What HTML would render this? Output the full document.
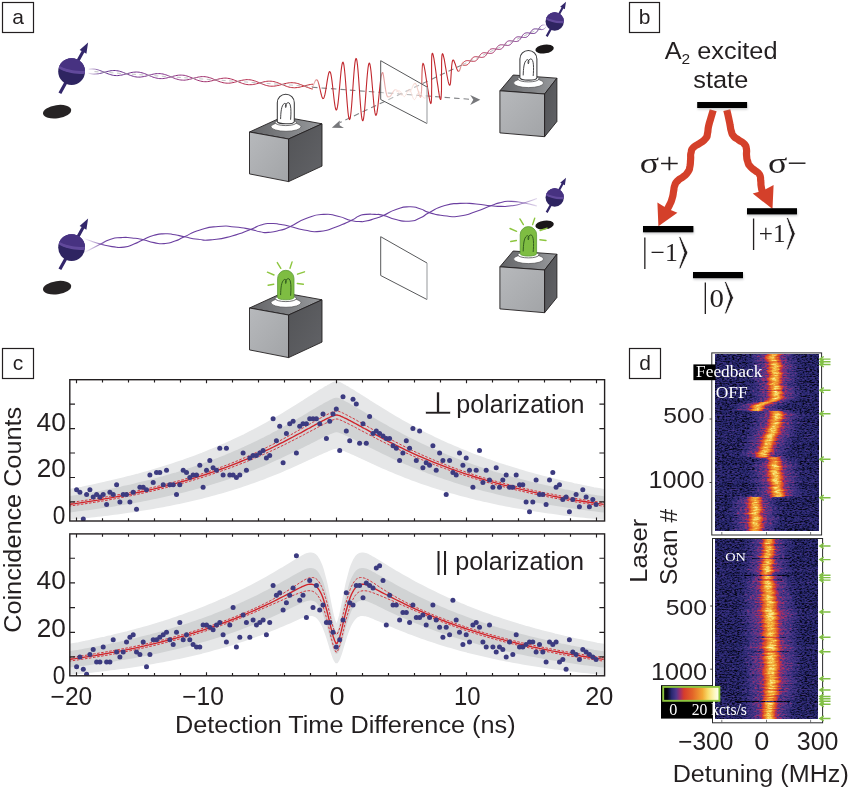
<!DOCTYPE html>
<html><head><meta charset="utf-8"><title>Figure</title>
<style>
html,body{margin:0;padding:0;background:#fff;overflow:hidden}
svg{display:block}
text{font-family:"Liberation Sans",sans-serif;fill:#231f20}
.ser{font-family:"Liberation Serif",serif}
.sym{font-family:"DejaVu Sans",sans-serif}
.mth{font-family:"DejaVu Math TeX Gyre","DejaVu Sans",sans-serif}
</style></head><body>
<svg width="850" height="790" viewBox="0 0 850 790">
<rect width="850" height="790" fill="#fff"/>
<defs>
<linearGradient id="gw1" gradientUnits="userSpaceOnUse" x1="86" y1="0" x2="315" y2="0">
<stop offset="0" stop-color="#5f2d8c" stop-opacity="0"/><stop offset="0.07" stop-color="#5f2d8c" stop-opacity="1"/>
<stop offset="0.35" stop-color="#86308a"/><stop offset="0.65" stop-color="#b22a52"/><stop offset="1" stop-color="#c1272d"/></linearGradient>
<linearGradient id="gw2" gradientUnits="userSpaceOnUse" x1="547" y1="25" x2="462" y2="65">
<stop offset="0" stop-color="#5f2d8c" stop-opacity="0"/><stop offset="0.09" stop-color="#5f2d8c" stop-opacity="1"/>
<stop offset="0.45" stop-color="#8a2d80"/><stop offset="0.75" stop-color="#b32a55"/><stop offset="1" stop-color="#c1272d"/></linearGradient>
<linearGradient id="gw3" gradientUnits="userSpaceOnUse" x1="84" y1="0" x2="540" y2="0">
<stop offset="0" stop-color="#6b3fa0" stop-opacity="0"/><stop offset="0.05" stop-color="#6b3fa0" stop-opacity="1"/>
<stop offset="0.93" stop-color="#6b3fa0" stop-opacity="1"/><stop offset="1" stop-color="#6b3fa0" stop-opacity="0.1"/></linearGradient>
<linearGradient id="gp1" gradientUnits="userSpaceOnUse" x1="310" y1="0" x2="400" y2="0">
<stop offset="0" stop-color="#e8a9a0" stop-opacity="0.3"/><stop offset="0.12" stop-color="#c1272d"/><stop offset="0.80" stop-color="#c1272d"/>
<stop offset="0.86" stop-color="#e08a80"/><stop offset="1" stop-color="#f2c4bb" stop-opacity="0.6"/></linearGradient>
<linearGradient id="gp2" gradientUnits="userSpaceOnUse" x1="464" y1="0" x2="408" y2="0">
<stop offset="0" stop-color="#e8a9a0" stop-opacity="0.4"/><stop offset="0.12" stop-color="#c1272d"/><stop offset="0.72" stop-color="#c1272d"/>
<stop offset="0.80" stop-color="#e59a8c"/><stop offset="1" stop-color="#f4cfc4" stop-opacity="0.5"/></linearGradient>
<linearGradient id="bxl" x1="0" y1="0" x2="1" y2="1"><stop offset="0" stop-color="#b7b9bc"/><stop offset="1" stop-color="#a2a4a7"/></linearGradient>
<linearGradient id="bxd" x1="0" y1="0" x2="1" y2="1"><stop offset="0" stop-color="#525356"/><stop offset="1" stop-color="#626367"/></linearGradient>
<linearGradient id="bxt" x1="0" y1="0" x2="1" y2="0"><stop offset="0" stop-color="#636467"/><stop offset="1" stop-color="#989a9d"/></linearGradient>
<clipPath id="sphc"><circle cx="0" cy="0" r="13.4"/></clipPath>
<g id="spin">
<path d="M-13.1,20.9 L-10.3,22.5 L12.7,-19.1 L14.8,-17.9 L16.5,-29.0 L8.0,-21.7 L10.0,-20.6 Z" fill="#33276b"/>
<circle cx="0" cy="0" r="13.4" fill="#2e2461"/>
<g clip-path="url(#sphc)">
<path d="M-14,-3.8 C-7,1 5,3.4 14,2 L14,-14 L-14,-14 Z" fill="#61499b"/>
<path d="M-14,-6.8 C-7,-2.1 5,0.3 14,-1 L14,-14 L-14,-14 Z" fill="#473281"/>
</g>
</g>
<g id="lampoff">
<ellipse cx="0.2" cy="0.8" rx="15" ry="4.6" fill="#fff" stroke="#4d4d4f" stroke-width="0.7"/>
<ellipse cx="0" cy="-3.4" rx="10.6" ry="3.1" fill="#fff" stroke="#4d4d4f" stroke-width="0.8"/>
<path d="M-8.5,-4.5 L-8.5,-23.2 A8.5,8.5 0 0 1 8.5,-23.2 L8.5,-4.5 A8.5,2.4 0 0 1 -8.5,-4.5 Z" fill="#fff" stroke="#3a3a3c" stroke-width="1.05"/>
<path d="M-5.2,-7.2 C-5,-13 -4.6,-20.5 -1.6,-22.3 C-0.6,-22.9 0.2,-22.3 0.4,-20.8 C0.5,-19.8 0.3,-18.8 -0.1,-18.4 C-0.8,-19.6 -0.3,-22.6 2.3,-23.3 C5.6,-23.6 5.4,-13 4.8,-6.6" fill="none" stroke="#3a3a3c" stroke-width="0.95" stroke-linecap="round"/>
</g>
<g id="lampon">
<ellipse cx="0.2" cy="0.8" rx="15" ry="4.6" fill="#fff" stroke="#4d4d4f" stroke-width="0.7"/>
<ellipse cx="0" cy="-3.4" rx="10.6" ry="3.1" fill="#fff" stroke="#4d4d4f" stroke-width="0.8"/>
<path d="M-8.2,-4.5 L-8.2,-23.4 A8.2,8.2 0 0 1 8.2,-23.4 L8.2,-4.5 A8.2,2.4 0 0 1 -8.2,-4.5 Z" fill="#7ebd42" stroke="#5b9a33" stroke-width="0.8"/>
<path d="M-5.2,-7.2 C-5,-13 -4.6,-20.5 -1.6,-22.3 C-0.6,-22.9 0.2,-22.3 0.4,-20.8 C0.5,-19.8 0.3,-18.8 -0.1,-18.4 C-0.8,-19.6 -0.3,-22.6 2.3,-23.3 C5.6,-23.6 5.4,-13 4.8,-6.6" fill="none" stroke="#2f5a1d" stroke-width="0.95" stroke-linecap="round"/>
<path d="M-8.5,-39.3 L-5,-33.6 M6.3,-40 L4.2,-33.6 M-18.4,-29.7 L-11.8,-26.9 M11.7,-27.7 L18.7,-30.1 M-17.7,-16.7 L-12,-17.7 M11.5,-18.4 L17.6,-17.7" fill="none" stroke="#8dc63f" stroke-width="1.4" stroke-linecap="round"/>
</g>
</defs>
<rect x="2.5" y="2.5" width="31" height="30" fill="#fff" stroke="#231f20" stroke-width="1.2"/>
<text x="18" y="24.1" font-size="21" text-anchor="middle">a</text>
<rect x="629.5" y="2.5" width="30" height="30" fill="#fff" stroke="#231f20" stroke-width="1.2"/>
<text x="644.5" y="24.1" font-size="21" text-anchor="middle">b</text>
<rect x="2.5" y="348.5" width="31" height="30" fill="#fff" stroke="#231f20" stroke-width="1.2"/>
<text x="18" y="370.1" font-size="21" text-anchor="middle">c</text>
<rect x="629.5" y="348.5" width="31" height="30" fill="#fff" stroke="#231f20" stroke-width="1.2"/>
<text x="645" y="370.1" font-size="21" text-anchor="middle">d</text>
<g transform="translate(0,0)">
<ellipse cx="57.1" cy="111.7" rx="14.2" ry="6.6" fill="#262324" transform="rotate(-8 57.1 111.7)"/>
<ellipse cx="544.6" cy="49" rx="9.3" ry="4.4" fill="#1a1718" transform="rotate(-8 544.6 49)"/>
</g>
<g transform="translate(0,176)">
<ellipse cx="57.1" cy="111.7" rx="14.2" ry="6.6" fill="#262324" transform="rotate(-8 57.1 111.7)"/>
<ellipse cx="544.6" cy="49" rx="9.3" ry="4.4" fill="#1a1718" transform="rotate(-8 544.6 49)"/>
</g>
<path d="M88.4,73.2L89.8,73.5L91.1,73.8L92.5,74L93.9,74.1L95.4,74L96.8,73.9L98.2,73.8L99.6,73.5L101.1,73.2L102.5,72.8L103.9,72.4L105.4,72L106.8,71.6L108.2,71.3L109.7,71L111.1,70.7L112.5,70.6L113.9,70.5L115.3,70.5L116.7,70.7L118.1,70.9L119.5,71.2L120.9,71.6L122.3,72.1L123.6,72.6L125,73.2L126.4,73.7L127.8,74.3L129.1,74.9L130.5,75.4L131.9,75.9L133.3,76.3L134.6,76.7L136,76.9L137.4,77.1L138.8,77.1L140.3,77.1L141.7,76.9L143.1,76.7L144.5,76.4L146,76.1L147.4,75.7L148.8,75.3L150.3,74.9L151.7,74.5L153.1,74.2L154.6,73.9L156,73.7L157.4,73.6L158.8,73.6L160.2,73.6L161.6,73.8L163,74L164.4,74.4L165.8,74.8L167.2,75.3L168.5,75.8L169.9,76.4L171.3,77L172.6,77.6L174,78.1L175.4,78.7L176.8,79.1L178.2,79.5L179.5,79.8L180.9,80L182.3,80.1L183.7,80.2L185.2,80.1L186.6,79.9L188,79.7L189.4,79.3L190.9,79L192.3,78.6L193.7,78.2L195.2,77.8L196.6,77.5L198.1,77.1L199.5,76.9L200.9,76.7L202.3,76.6L203.7,76.6L205.1,76.7L206.5,76.9L207.9,77.2L209.3,77.6L210.7,78L212.1,78.5L213.4,79.1L214.8,79.7L216.2,80.3L217.5,80.8L218.9,81.4L220.3,81.9L221.7,82.3L223,82.7L224.4,82.9L225.8,83.1L227.2,83.2L228.7,83.2L230.1,83.1L231.5,82.9L232.9,82.6L234.4,82.3L235.8,81.9L237.2,81.5L238.7,81.1L240.1,80.7L241.5,80.4L243,80.1L244.4,79.9L245.8,79.7L247.2,79.6L248.6,79.7L250,79.8L251.4,80L252.8,80.4L254.2,80.8L255.6,81.2L256.9,81.8L258.3,82.3L259.7,82.9L261.1,83.5L262.4,84.1L263.8,84.6L265.2,85.1L266.6,85.5L267.9,85.8L269.3,86.1L270.7,86.2L272.1,86.2L273.6,86.2L275,86L276.4,85.8L277.8,85.5L279.3,85.2L280.7,84.8L282.1,84.4L283.6,84L285,83.6L286.4,83.3L287.9,83L289.3,82.8L290.7,82.7L292.1,82.7L293.5,82.8L294.9,82.9L296.3,83.2L297.7,83.5L299.1,84L300.5,84.5L301.8,85L303.2,85.6L304.6,86.2L305.9,86.8L307.3,87.3L308.7,87.8L310.1,88.3L311.4,88.7L312.8,89" fill="none" stroke="url(#gw1)" stroke-width="1"/>
<path d="M88.6,69.2L90.1,69.1L91.5,69L92.9,69L94.3,69.1L95.7,69.3L97.1,69.6L98.5,70L99.8,70.5L101.2,71L102.6,71.5L103.9,72.1L105.3,72.7L106.7,73.3L108.1,73.8L109.4,74.3L110.8,74.7L112.2,75.1L113.6,75.4L115,75.5L116.4,75.6L117.8,75.6L119.2,75.4L120.6,75.2L122.1,75L123.5,74.6L124.9,74.2L126.4,73.9L127.8,73.5L129.3,73.1L130.7,72.7L132.1,72.4L133.5,72.2L135,72.1L136.4,72L137.8,72.1L139.2,72.2L140.6,72.5L142,72.8L143.3,73.2L144.7,73.7L146.1,74.2L147.5,74.8L148.8,75.4L150.2,76L151.6,76.5L152.9,77.1L154.3,77.5L155.7,77.9L157.1,78.2L158.5,78.5L159.9,78.6L161.3,78.6L162.7,78.6L164.1,78.4L165.6,78.2L167,77.9L168.4,77.5L169.9,77.2L171.3,76.8L172.7,76.4L174.2,76L175.6,75.7L177,75.4L178.4,75.2L179.9,75.1L181.3,75.1L182.7,75.2L184.1,75.3L185.5,75.6L186.9,76L188.2,76.4L189.6,76.9L191,77.5L192.4,78L193.7,78.6L195.1,79.2L196.5,79.8L197.8,80.3L199.2,80.7L200.6,81.1L202,81.4L203.4,81.6L204.8,81.7L206.2,81.7L207.6,81.6L209,81.4L210.5,81.1L211.9,80.8L213.3,80.4L214.8,80.1L216.2,79.7L217.6,79.3L219.1,78.9L220.5,78.6L221.9,78.4L223.4,78.2L224.8,78.1L226.2,78.1L227.6,78.3L229,78.5L230.4,78.8L231.7,79.2L233.1,79.6L234.5,80.2L235.9,80.7L237.2,81.3L238.6,81.9L240,82.5L241.4,83L242.7,83.5L244.1,83.9L245.5,84.3L246.9,84.5L248.3,84.7L249.7,84.7L251.1,84.7L252.5,84.6L253.9,84.3L255.4,84.1L256.8,83.7L258.2,83.4L259.7,83L261.1,82.6L262.6,82.2L264,81.8L265.4,81.6L266.8,81.3L268.3,81.2L269.7,81.2L271.1,81.2L272.5,81.4L273.9,81.6L275.3,82L276.6,82.4L278,82.9L279.4,83.4L280.8,84L282.1,84.6L283.5,85.1L284.9,85.7L286.2,86.2L287.6,86.7L289,87.1L290.4,87.4L291.8,87.6L293.2,87.7L294.6,87.8L296,87.7L297.4,87.5L298.9,87.3L300.3,87L301.7,86.6L303.2,86.3L304.6,85.9L306,85.5L307.5,85.1L308.9,84.8L310.3,84.5L311.7,84.3L313.2,84.2" fill="none" stroke="url(#gw1)" stroke-width="1"/>
<path d="M94.5,71.6 L313,86.6" stroke="#a7a9ac" stroke-width="0.7" stroke-dasharray="4 3.5" fill="none"/>
<path d="M546.3,25.1L545.6,25L545,24.9L544.3,24.9L543.7,24.9L543.1,25L542.5,25.1L541.9,25.3L541.4,25.6L540.9,25.9L540.5,26.3L540.1,26.8L539.7,27.3L539.3,27.9L538.9,28.5L538.6,29.1L538.2,29.7L537.9,30.3L537.5,30.9L537.1,31.4L536.7,31.9L536.3,32.4L535.8,32.7L535.3,33L534.8,33.3L534.2,33.4L533.6,33.5L533,33.5L532.3,33.5L531.7,33.5L531,33.4L530.3,33.2L529.6,33.1L528.9,33L528.2,32.9L527.5,32.8L526.9,32.8L526.3,32.9L525.7,33L525.1,33.2L524.6,33.4L524.1,33.7L523.6,34.1L523.2,34.6L522.8,35.1L522.4,35.6L522.1,36.2L521.7,36.8L521.3,37.4L521,38L520.6,38.6L520.2,39.2L519.8,39.7L519.4,40.1L519,40.5L518.5,40.9L518,41.1L517.4,41.3L516.8,41.4L516.2,41.5L515.6,41.5L514.9,41.4L514.2,41.3L513.5,41.2L512.8,41.1L512.1,41L511.4,40.9L510.8,40.8L510.1,40.8L509.5,40.8L508.9,40.9L508.3,41L507.8,41.2L507.3,41.5L506.8,41.9L506.3,42.3L505.9,42.8L505.5,43.3L505.2,43.9L504.8,44.5L504.4,45.1L504.1,45.7L503.7,46.3L503.4,46.9L503,47.4L502.6,47.9L502.1,48.3L501.6,48.7L501.1,49L500.6,49.2L500,49.3L499.4,49.4L498.8,49.4L498.1,49.4L497.5,49.3L496.8,49.2L496.1,49.1L495.4,49L494.7,48.9L494,48.8L493.3,48.7L492.7,48.7L492.1,48.8L491.5,48.9L490.9,49.1L490.4,49.3L489.9,49.7L489.5,50.1L489.1,50.5L488.7,51L488.3,51.6L487.9,52.2L487.6,52.8L487.2,53.4L486.8,54L486.5,54.6L486.1,55.1L485.7,55.6L485.3,56.1L484.8,56.5L484.3,56.8L483.8,57L483.2,57.2L482.6,57.3L482,57.4L481.4,57.4L480.7,57.3L480,57.2L479.3,57.1L478.6,57L477.9,56.9L477.3,56.8L476.6,56.7L475.9,56.7L475.3,56.7L474.7,56.8L474.1,56.9L473.6,57.2L473.1,57.5L472.6,57.8L472.2,58.3L471.8,58.8L471.4,59.3L471,59.9L470.7,60.5L470.3,61.1L470,61.7L469.6,62.3L469.2,62.9L468.8,63.4L468.4,63.8L468,64.3L467.5,64.6L467,64.9L466.4,65.1L465.8,65.2L465.2,65.3L464.6,65.3L463.9,65.3L463.3,65.2L462.6,65.1" fill="none" stroke="url(#gw2)" stroke-width="1"/>
<path d="M546.7,25.9L546.3,26.5L545.9,27L545.5,27.6L545.1,28.1L544.7,28.5L544.2,28.8L543.7,29.1L543.2,29.3L542.6,29.5L542,29.6L541.4,29.6L540.7,29.5L540,29.5L539.3,29.4L538.6,29.2L537.9,29.1L537.3,29L536.6,28.9L535.9,28.9L535.3,28.9L534.7,28.9L534.1,29L533.5,29.2L533,29.5L532.5,29.8L532.1,30.2L531.6,30.7L531.2,31.2L530.9,31.8L530.5,32.3L530.1,33L529.8,33.6L529.4,34.2L529.1,34.8L528.7,35.3L528.3,35.8L527.8,36.3L527.4,36.6L526.9,36.9L526.4,37.2L525.8,37.4L525.2,37.5L524.6,37.5L523.9,37.5L523.3,37.4L522.6,37.3L521.9,37.2L521.2,37.1L520.5,37L519.8,36.9L519.1,36.8L518.5,36.8L517.9,36.8L517.3,36.9L516.7,37.1L516.2,37.3L515.7,37.6L515.2,38L514.8,38.4L514.4,38.9L514,39.5L513.6,40L513.2,40.6L512.9,41.3L512.5,41.9L512.2,42.5L511.8,43L511.4,43.5L511,44L510.5,44.4L510.1,44.8L509.5,45L509,45.2L508.4,45.4L507.8,45.4L507.2,45.5L506.5,45.4L505.8,45.3L505.1,45.2L504.5,45.1L503.8,45L503.1,44.9L502.4,44.8L501.7,44.8L501.1,44.8L500.5,44.8L499.9,45L499.4,45.2L498.8,45.4L498.4,45.8L497.9,46.2L497.5,46.7L497.1,47.2L496.7,47.7L496.4,48.3L496,48.9L495.6,49.6L495.3,50.2L494.9,50.7L494.5,51.3L494.1,51.8L493.7,52.2L493.2,52.6L492.7,52.9L492.2,53.1L491.6,53.3L491,53.4L490.4,53.4L489.8,53.4L489.1,53.3L488.4,53.2L487.7,53.1L487,53L486.3,52.9L485.6,52.8L485,52.7L484.3,52.7L483.7,52.7L483.1,52.8L482.5,53L482,53.2L481.5,53.6L481.1,53.9L480.6,54.4L480.2,54.9L479.8,55.4L479.5,56L479.1,56.6L478.8,57.2L478.4,57.8L478,58.4L477.7,59L477.3,59.5L476.8,60L476.4,60.4L475.9,60.7L475.4,61L474.8,61.2L474.2,61.3L473.6,61.3L473,61.3L472.3,61.3L471.6,61.2L471,61.1L470.3,61L469.6,60.8L468.9,60.7L468.2,60.7L467.5,60.6L466.9,60.7L466.3,60.7L465.7,60.9L465.2,61.1L464.7,61.4L464.2,61.7L463.8,62.1L463.3,62.6L463,63.1L462.6,63.7L462.2,64.3" fill="none" stroke="url(#gw2)" stroke-width="1"/>
<path d="M541.1,28 L462.4,64.7" stroke="#a7a9ac" stroke-width="0.7" stroke-dasharray="4 3.5" fill="none"/>
<g stroke="#808285" stroke-width="1.1" stroke-dasharray="5.5 4" fill="none">
<path d="M312,87.2 L470,99.3"/>
<path d="M462,64.9 L340,122.5"/>
</g>
<path d="M331.8,127.8 L339.8,120.4 L339.6,125.3 L343.9,127.9 Z" fill="#77787b"/>
<path d="M480.3,99.8 L470.2,94.9 L473.3,99.8 L470.2,104.9 Z" fill="#77787b"/>
<path d="M311,90L311.5,89.4L312,88.5L312.5,87.5L313,86.2L313.5,84.9L314,83.6L314.5,82.4L315,81.3L315.5,80.4L316,79.9L316.5,79.7L317,79.9L317.5,80.6L318,81.6L318.5,83.1L319,84.9L319.5,87L320,89.2L320.5,91.4L321,93.5L321.5,95.4L322,97L322.5,98.1L323,98.6L323.5,98.4L324,97.7L324.5,96.2L325,94.2L325.5,91.6L326,88.7L326.5,85.5L327,82.2L327.5,79.1L328,76.3L328.5,74L329,72.4L329.5,71.6L330,71.7L330.5,72.7L331,74.7L331.5,77.5L332,81.1L332.5,85.2L333,89.7L333.5,94.3L334,98.7L334.5,102.7L335,106L335.5,108.5L336,109.9L336.5,110L337,109L337.5,106.7L338,103.4L338.5,99L339,93.9L339.5,88.3L340,82.6L340.5,77L341,71.9L341.5,67.6L342,64.5L342.5,62.6L343,62.1L343.5,63.2L344,65.7L344.5,69.7L345,74.8L345.5,80.8L346,87.4L346.5,94.2L347,100.9L347.5,107L348,112.2L348.5,116.2L349,118.7L349.5,119.6L350,118.8L350.5,116.3L351,112.3L351.5,107L352,100.6L352.5,93.6L353,86.3L353.5,79.1L354,72.5L354.5,66.9L355,62.4L355.5,59.6L356,58.4L356.5,58.9L357,61.2L357.5,65.1L358,70.4L358.5,76.8L359,83.8L359.5,91.2L360,98.5L360.5,105.3L361,111.2L361.5,115.9L362,119.1L362.5,120.7L363,120.6L363.5,118.8L364,115.5L364.5,110.8L365,105L365.5,98.5L366,91.6L366.5,84.8L367,78.4L367.5,72.8L368,68.2L368.5,65L369,63.3L369.5,63.1L370,64.5L370.5,67.3L371,71.3L371.5,76.4L372,82.2L372.5,88.3L373,94.5L373.5,100.3L374,105.5L374.5,109.8L375,112.9L375.5,114.8L376,115.3L376.5,114.5L377,112.4L377.5,109.2L378,105.2L378.5,100.5L379,95.5L379.5,90.4L380,85.5L380.5,81.1L381,77.5L381.5,74.8L382,73.1L382.5,72.5L383,73L383.5,75.6L384,78.8L384.5,82.3L385,85.9L385.5,89.2L386,92L386.5,94.2L387,95.8L387.5,96.7L388,97L388.5,96.7L389,96.8L389.5,96.8L390,96.5L390.5,96L391,95.4L391.5,94.6L392,93.8L392.5,92.9L393,92.1L393.5,91.3L394,90.7L394.5,90.2L395,89.8L395.5,89.7L396,89.7L396.5,89.9L397,90.3L397.5,90.8L398,91.4L398.5,92L399,92.7L399.5,93.4L400,94L400.5,94.5L401,94.9L401.5,95.3L402,95.4" fill="none" stroke="url(#gp1)" stroke-width="1.1" stroke-linejoin="round"/>
<path d="M463.9,61.9L463.4,61.9L463,62.1L462.7,62.5L462.3,63L461.9,63.7L461.6,64.5L461.2,65.5L460.9,66.6L460.5,67.7L460.2,68.8L459.9,69.7L459.5,70.5L459.1,71.1L458.7,71.3L458.3,71.3L457.9,70.8L457.4,70.1L456.9,69L456.4,67.6L455.9,66.1L455.4,64.5L454.8,63L454.3,61.7L453.9,60.7L453.4,60.1L453,60L452.6,60.6L452.3,61.7L452,63.5L451.7,65.8L451.5,68.6L451.3,71.6L451.1,74.8L450.9,77.9L450.7,80.7L450.5,82.9L450.2,84.5L449.8,85.3L449.4,85.1L448.9,84L448.3,81.9L447.7,79L447,75.5L446.3,71.4L445.6,67.3L444.9,63.2L444.3,59.5L443.6,56.6L443.1,54.6L442.6,53.7L442.2,54.1L441.9,55.9L441.7,58.8L441.6,62.9L441.6,67.9L441.5,73.5L441.5,79.3L441.5,84.9L441.5,90.1L441.3,94.4L441.1,97.5L440.9,99.3L440.5,99.5L439.9,98.2L439.3,95.4L438.6,91.2L437.9,86.1L437,80.3L436.2,74.2L435.4,68.3L434.6,62.9L433.9,58.4L433.2,55.2L432.7,53.4L432.3,53.2L431.9,54.6L431.7,57.6L431.6,61.9L431.6,67.2L431.6,73.3L431.6,79.6L431.7,85.9L431.6,91.6L431.6,96.5L431.4,100.3L431.2,102.7L430.8,103.6L430.4,102.9L429.8,100.9L429.2,97.6L428.5,93.4L427.7,88.5L426.9,83.2L426.1,78L425.4,73.2L424.7,69.1L424.1,66L423.5,64L423,63.3L422.7,63.9L422.4,65.6L422.2,68.4L422,72.1L421.9,76.3L421.8,80.8L421.7,85.3L421.6,89.5L421.4,93L421.2,95.4L420.8,96.8L420.5,97.3L420,96.9L419.5,95.7L419,94.1L418.5,92.1L417.9,90.1L417.3,88.1L416.8,86.3L416.3,84.9L415.8,84L415.4,83.4L414.9,83.3L414.5,83.5L414.2,84L413.8,84.3L413.4,84.9L413,85.6L412.7,86.4L412.3,87.3L412,88.2L411.6,89L411.3,89.8L410.9,90.5L410.5,91L410.1,91.4L409.7,91.7L409.3,91.8L408.9,91.8L408.5,91.7L408.1,91.5L407.7,91.3L407.2,91.1" fill="none" stroke="url(#gp2)" stroke-width="1.1" stroke-linejoin="round"/>
<path d="M396,92L396.5,91.7L397,91.4L397.5,91.2L398,90.9L398.5,90.8L399,90.7L399.5,90.9L400,91.2L400.5,91.7L401,92.4L401.5,93.2L402,94.1L402.5,94.9L403,95.7L403.5,96.2L404,96.6L404.5,96.6L405,96.2L405.5,95.6L406,94.7L406.5,93.6L407,92.4L407.5,91.2L408,90.3L408.5,89.6L409,89.2L409.5,89.3L410,89.9L410.5,90.8L411,92.1L411.5,93.6L412,95.1L412.5,96.6L413,97.9L413.5,98.9L414,99.5L414.5,99.6L415,99.3L415.5,98.5L416,97.6L416.5,96.4L417,95.2L417.5,94L418,93L418.5,92.4L419,92L419.5,92L420,92.3L420.5,92.9L421,93.7L421.5,94.6L422,95.5L422.5,96.4L423,97.1L423.5,97.6L424,98L424.5,98.1L425,98.1L425.5,97.9L426,97.7L426.5,97.3L427,97L427.5,96.7L428,96.5" fill="none" stroke="#f0b9ac" stroke-width="0.9" opacity="0.8"/>
<g transform="translate(0,0)">
<path d="M380.7,60.7 L427,87 L427,123.5 L380.7,99.5 Z" fill="#fff" fill-opacity="0.45" stroke="none"/>
<path d="M427,87 L380.7,60.7 L380.7,99.5 L427,123.5" fill="none" stroke="#58595b" stroke-width="1"/>
<path d="M427,87 L427,123.5" fill="none" stroke="#a7a9ac" stroke-width="1.2"/>
</g>
<g transform="translate(0,176)">
<path d="M380.7,60.7 L427,87 L427,123.5 L380.7,99.5 Z" fill="#fff" fill-opacity="0.45" stroke="none"/>
<path d="M427,87 L380.7,60.7 L380.7,99.5 L427,123.5" fill="none" stroke="#58595b" stroke-width="1"/>
<path d="M427,87 L427,123.5" fill="none" stroke="#a7a9ac" stroke-width="1.2"/>
</g>
<path d="M84,238.5C86.3,239.3 85.5,239.1 91,241C96.5,242.9 93.6,242.2 100.6,244.1C107.6,246 104.2,245.6 112,246.6C119.8,247.6 116.8,248 124.1,247.1C131.4,246.2 127.6,246.5 134,244C140.4,241.5 136.5,242.6 143.2,239.7C149.9,236.8 146.6,237.3 154,235.3C161.4,233.3 158.3,234 165.3,233.8C172.3,233.6 168.6,233.8 175,234.8C181.4,235.8 176.7,235.3 184.4,236.8C192.1,238.3 188.7,238.3 198,239.3C207.3,240.3 201.1,240.8 212.4,239.7C223.7,238.6 219.3,239.4 232,236C244.7,232.6 240.9,233.1 250.6,229.4C260.3,225.7 254.1,227 261,225C267.9,223 264.5,223.7 271.2,223.5C277.9,223.3 274.6,223.5 281,224.5C287.4,225.5 282.6,224.7 290.3,226.5C298,228.3 294.1,228.4 304,230C313.9,231.6 309.3,232.4 320,231.4C330.7,230.4 325.7,230.6 336,227C346.3,223.4 343.3,224.2 351,220.5C358.7,216.8 354,218 359,216C364,214 360.7,214.9 366,214.4C371.3,213.9 369.2,214.1 375,214.4C380.8,214.7 376.4,213.7 383.4,215.4C390.4,217.1 387.5,217.6 396,219.5C404.5,221.4 401,221.7 409,221.2C417,220.7 413.2,220.9 420,218C426.8,215.1 421.4,216.7 429.4,212.6C437.4,208.5 433.8,208.9 444,205.8C454.2,202.7 449.3,204 460,203.4C470.7,202.8 465.7,203.2 476,204C486.3,204.8 482.5,205 490.8,205.8C499.1,206.6 494.2,206.4 501,206.4C507.8,206.4 503.6,206.9 511.3,205.8C519,204.7 515.4,205.4 524,203C532.6,200.6 532.7,200 537,198.5" fill="none" stroke="url(#gw3)" stroke-width="1.1"/>
<path d="M84,252.5C86.3,251.3 85.5,251.8 91,249C96.5,246.2 94.3,247.3 100.6,244.1C106.9,240.9 103.1,241.7 110,239.5C116.9,237.3 113.9,238.1 121.2,237.6C128.5,237.1 124.7,237.3 132,238C139.3,238.7 135.9,238.2 143.2,239.7C150.5,241.2 146.6,241.3 154,242.6C161.4,243.9 158.3,244 165.3,243.5C172.3,243 168.6,243.2 175,241C181.4,238.8 176.1,240.5 184.4,236.8C192.7,233.1 188.7,233.4 200,230C211.3,226.6 206.5,227.5 218.2,226.5C229.9,225.5 224.2,226 235,227C245.8,228 242.3,227.8 250.6,229.4C258.9,231 254.1,230.8 260,231.8C265.9,232.8 261.5,232.9 268.2,232.4C274.9,231.9 272.6,232.3 280,230.3C287.4,228.3 281.6,230.4 290.3,226.5C299,222.6 294.9,222.5 306,218.5C317.1,214.5 312.9,215.1 323.6,214.4C334.3,213.7 328.9,214.3 338,216.3C347.1,218.3 344,218.8 351,220.5C358,222.2 354,221.3 359,221.5C364,221.7 360.7,222 366,221C371.3,220 369.2,220.4 375,218.5C380.8,216.6 376.4,218.4 383.4,215.4C390.4,212.4 387.5,212.4 396,209.5C404.5,206.6 401,207 409,206.8C417,206.6 413.2,206.9 420,208.8C426.8,210.7 421.4,210.3 429.4,212.6C437.4,214.9 433.8,214.7 444,215.8C454.2,216.9 449.3,217.4 460,216C470.7,214.6 465.7,214.9 476,211.5C486.3,208.1 482.5,208.8 490.8,205.8C499.1,202.8 494.2,204 501,202.5C507.8,201 503.6,201.2 511.3,201.4C519,201.6 515.4,201.5 524,203C532.6,204.5 532.7,205 537,206" fill="none" stroke="url(#gw3)" stroke-width="1.1"/>
<g transform="translate(0,0)">
<g stroke="#231f20" stroke-width="0.9" stroke-linejoin="round">
<path d="M249.5,132L283,116.7L322,123.8L288.6,139Z" fill="url(#bxt)"/>
<path d="M249.5,132L288.6,139L288.6,181.6L249.5,173.9Z" fill="url(#bxl)"/>
<path d="M288.6,139L322,123.8L322,166.1L288.6,181.6Z" fill="url(#bxd)"/>
</g>
<g stroke="#231f20" stroke-width="0.9" stroke-linejoin="round">
<path d="M499.9,90.8L513.2,75L556.9,78.2L544.6,94Z" fill="url(#bxt)"/>
<path d="M499.9,90.8L544.6,94L544.6,136.7L499.9,132.9Z" fill="url(#bxl)"/>
<path d="M544.6,94L556.9,78.2L556.9,121.5L544.6,136.7Z" fill="url(#bxd)"/>
</g>
<use href="#lampoff" x="285.8" y="125.9"/>
<use href="#lampoff" x="528.4" y="82.2"/>
<use href="#spin" transform="translate(71.6,71.6)"/>
<use href="#spin" transform="translate(554.7,21.5) scale(0.685)"/>
</g>
<g transform="translate(0,176)">
<g stroke="#231f20" stroke-width="0.9" stroke-linejoin="round">
<path d="M249.5,132L283,116.7L322,123.8L288.6,139Z" fill="url(#bxt)"/>
<path d="M249.5,132L288.6,139L288.6,181.6L249.5,173.9Z" fill="url(#bxl)"/>
<path d="M288.6,139L322,123.8L322,166.1L288.6,181.6Z" fill="url(#bxd)"/>
</g>
<g stroke="#231f20" stroke-width="0.9" stroke-linejoin="round">
<path d="M499.9,90.8L513.2,75L556.9,78.2L544.6,94Z" fill="url(#bxt)"/>
<path d="M499.9,90.8L544.6,94L544.6,136.7L499.9,132.9Z" fill="url(#bxl)"/>
<path d="M544.6,94L556.9,78.2L556.9,121.5L544.6,136.7Z" fill="url(#bxd)"/>
</g>
<use href="#lampon" x="285.8" y="125.9"/>
<use href="#lampon" x="528.4" y="82.2"/>
<use href="#spin" transform="translate(71.6,71.6)"/>
<use href="#spin" transform="translate(554.7,21.5) scale(0.685)"/>
</g>
<defs><filter id="bsh" x="-10%" y="-100%" width="120%" height="400%"><feGaussianBlur stdDeviation="1.2"/></filter></defs>
<text font-size="24.5" transform="translate(664.70,58.80) scale(1.0335,1.0000)">A<tspan font-size="15" dy="5">2</tspan><tspan dy="-5"> excited</tspan></text>
<text font-size="24.5" transform="translate(693.32,88.20) scale(1.0341,1.0000)">state</text>
<path d="M713.2,110.2C712.4,112.9 712.4,112.8 710.8,118.2C709.3,123.6 709.6,121.4 708.5,126.5C707.4,131.6 708.5,129.5 707.5,133.5C706.6,137.5 708.2,135.3 705.6,138.5C703.1,141.7 704,140.3 700,143.2C696,146.1 696.6,144.1 693.6,147.2C690.7,150.2 692.1,148.3 691.1,152.4C690,156.4 691,154.7 690.6,159.4C690.2,164.1 690.7,162.3 689.9,166.5C689,170.6 690.1,168.5 688,171.9C685.9,175.3 686.9,173.7 683.5,176.6C680.2,179.5 680.8,177.7 677.9,180.6C675,183.5 676.2,181.8 674.8,185.3C673.4,188.8 674.5,186.9 673.6,191.2C672.8,195.5 673.6,193.7 672.2,198.2C670.9,202.8 671.6,200.7 669.6,204.8C667.7,208.9 667.5,208.6 666.4,210.5" fill="none" stroke="#d4402a" stroke-width="7.2" stroke-linejoin="round"/>
<path d="M726.8,110.2C727.5,112.9 727.6,113.2 728.7,118.2C729.8,123.3 729.3,121 730.1,125.3C731,129.6 730.1,127.6 731.3,131.2C732.5,134.8 731.1,133.1 733.6,136.1C736.2,139.1 735.3,137.5 738.8,140.1C742.4,142.7 741.7,141 744.2,143.9C746.7,146.8 745.6,144.8 746.4,148.8C747.1,152.8 746.1,151.6 746.6,155.9C747.1,160.2 746.5,158.2 747.8,161.8C749,165.4 747.8,163.7 750.4,166.7C752.9,169.7 752.2,168.1 755.3,170.7C758.4,173.3 757.7,171.2 759.5,174.5C761.3,177.8 760.2,176.6 760.7,180.6C761.3,184.6 760.5,182.5 761.2,186.5C761.8,190.5 762.1,190.5 762.6,192.6" fill="none" stroke="#d4402a" stroke-width="7.2" stroke-linejoin="round"/>
<path d="M658.4,226.2L657.4,202.5L667.1,208.4L677.4,212.8Z" fill="#d4402a"/>
<path d="M772.5,209.1L752.7,193.5L762.8,190.7L773.6,185.1Z" fill="#d4402a"/>
<rect x="697.7" y="103.5" width="49.9" height="6" fill="#9d9fa2" opacity="0.55" filter="url(#bsh)"/>
<rect x="697.2" y="102" width="49.9" height="6" fill="#000"/>
<rect x="747.5" y="209.7" width="50" height="6.2" fill="#9d9fa2" opacity="0.55" filter="url(#bsh)"/>
<rect x="747" y="208.2" width="50" height="6.2" fill="#000"/>
<rect x="643.5" y="227.5" width="50.4" height="6.3" fill="#9d9fa2" opacity="0.55" filter="url(#bsh)"/>
<rect x="643" y="226" width="50.4" height="6.3" fill="#000"/>
<rect x="693.5" y="273.5" width="50" height="6.2" fill="#9d9fa2" opacity="0.55" filter="url(#bsh)"/>
<rect x="693" y="272" width="50" height="6.2" fill="#000"/>
<text class="ser" font-size="30" transform="translate(639.80,172.50) scale(1.1967,1.0000)">σ+</text>
<text class="ser" font-size="30" transform="translate(768.00,172.50) scale(1.1967,1.0000)">σ−</text>
<text class="mth" font-size="26" transform="translate(642.40,262.61) scale(0.8000,1.4636)">|</text>
<text class="ser" font-size="26" transform="translate(650.56,261.30) scale(0.9880,1.0000)">−1</text>
<text class="mth" stroke="#fff" stroke-width="0.5" font-size="26" transform="translate(676.94,262.61) scale(1.2414,1.4636)">⟩</text>
<text class="mth" font-size="26" transform="translate(703.10,308.01) scale(0.8000,1.4636)">|</text>
<text class="ser" font-size="26" transform="translate(709.49,306.50) scale(1.1091,1.0000)">0</text>
<text class="mth" stroke="#fff" stroke-width="0.5" font-size="26" transform="translate(722.86,308.01) scale(1.2276,1.4636)">⟩</text>
<text class="mth" font-size="26" transform="translate(751.30,243.79) scale(0.8000,1.4682)">|</text>
<text class="ser" font-size="26" transform="translate(758.79,242.20) scale(0.9680,1.0000)">+1</text>
<text class="mth" stroke="#fff" stroke-width="0.5" font-size="26" transform="translate(784.80,243.79) scale(1.2000,1.4682)">⟩</text>
<defs><clipPath id="cp0"><rect x="69.8" y="379.7" width="534.8" height="141.3"/></clipPath><clipPath id="cp1"><rect x="69.8" y="533.9" width="534.8" height="141.9"/></clipPath></defs>
<g clip-path="url(#cp0)">
<path d="M68.7,489.8L71.9,489.2L75.2,488.6L78.4,488L81.7,487.4L84.9,486.7L88.2,486.1L91.4,485.4L94.7,484.7L97.9,484L101.2,483.3L104.4,482.6L107.7,481.8L110.9,481.1L114.2,480.3L117.4,479.5L120.7,478.7L123.9,477.9L127.2,477.1L130.5,476.3L133.7,475.4L137,474.6L140.2,473.7L143.5,472.8L146.7,471.9L150,470.9L153.2,470L156.5,469L159.7,468L163,467L166.2,466L169.5,464.9L172.7,463.9L176,462.8L179.2,461.7L182.5,460.6L185.7,459.4L189,458.3L192.2,457.1L195.5,455.9L198.7,454.6L202,453.4L205.2,452.1L208.5,450.8L211.7,449.5L214.9,448.1L218.2,446.7L221.4,445.3L224.7,443.9L227.9,442.4L231.2,441L234.4,439.5L237.7,437.9L240.9,436.4L244.2,434.8L247.4,433.1L250.7,431.5L253.9,429.8L257.2,428.1L260.4,426.4L263.7,424.6L266.9,422.8L270.2,421L273.4,419.1L276.7,417.2L279.9,415.3L283.2,413.4L286.4,411.4L289.7,409.4L292.9,407.4L296.2,405.4L299.4,403.3L300.8,402.5L302.1,401.7L303.4,400.9L304.6,400L305.9,399.2L307.2,398.4L308.6,397.5L309.9,396.7L311.1,395.9L312.4,395.1L313.8,394.2L315.1,393.4L316.4,392.6L317.6,391.8L318.9,391L320.2,390.2L321.6,389.4L322.9,388.6L324.1,387.8L325.4,387L326.8,386.3L328.1,385.5L329.4,384.8L330.6,384.1L331.9,383.4L333.2,382.8L334.6,382.3L335.9,382L337.1,382L338.4,382.3L339.8,382.8L341.1,383.4L342.4,384.1L343.6,384.8L344.9,385.5L346.2,386.3L347.6,387L348.9,387.8L350.1,388.6L351.4,389.4L352.8,390.2L354.1,391L355.4,391.8L356.6,392.6L357.9,393.4L359.2,394.2L360.6,395.1L361.9,395.9L363.1,396.7L364.4,397.5L365.8,398.4L367.1,399.2L368.4,400L369.6,400.9L370.9,401.7L372.2,402.5L373.6,403.3L374.9,404.1L376.1,405L379.4,407L382.6,409L385.9,411L389.1,413L392.4,414.9L395.6,416.8L398.9,418.7L402.1,420.6L405.4,422.4L408.6,424.2L411.9,426L415.1,427.7L418.4,429.5L421.6,431.2L424.9,432.8L428.1,434.4L431.4,436L434.6,437.6L437.9,439.1L441.1,440.7L444.4,442.1L447.6,443.6L450.9,445L454.1,446.4L457.4,447.8L460.6,449.2L463.9,450.5L467.1,451.8L470.4,453.1L473.6,454.4L476.9,455.6L480.1,456.8L483.4,458L486.6,459.2L489.9,460.3L493.1,461.5L496.4,462.6L499.6,463.7L502.9,464.7L506.1,465.8L509.4,466.8L512.6,467.8L515.9,468.8L519.1,469.8L522.4,470.7L525.6,471.7L528.9,472.6L532.1,473.5L535.4,474.4L538.6,475.2L541.9,476.1L545.1,476.9L548.4,477.8L551.6,478.6L554.9,479.4L558.1,480.2L561.4,480.9L564.6,481.7L567.9,482.4L571.1,483.1L574.4,483.9L577.6,484.6L580.9,485.2L584.1,485.9L587.4,486.6L590.6,487.2L593.9,487.9L597.2,488.5L600.4,489.1L603.7,489.7L603.7,519.1L600.4,518.8L597.2,518.5L593.9,518.1L590.6,517.8L587.4,517.5L584.1,517.1L580.9,516.8L577.6,516.4L574.4,516L571.1,515.6L567.9,515.3L564.6,514.9L561.4,514.4L558.1,514L554.9,513.6L551.6,513.1L548.4,512.7L545.1,512.2L541.9,511.7L538.6,511.3L535.4,510.8L532.1,510.2L528.9,509.7L525.6,509.2L522.4,508.6L519.1,508.1L515.9,507.5L512.6,506.9L509.4,506.3L506.1,505.7L502.9,505L499.6,504.4L496.4,503.7L493.1,503L489.9,502.3L486.6,501.6L483.4,500.9L480.1,500.1L476.9,499.4L473.6,498.6L470.4,497.8L467.1,496.9L463.9,496.1L460.6,495.2L457.4,494.3L454.1,493.4L450.9,492.5L447.6,491.6L444.4,490.6L441.1,489.6L437.9,488.6L434.6,487.6L431.4,486.5L428.1,485.4L424.9,484.3L421.6,483.2L418.4,482L415.1,480.9L411.9,479.7L408.6,478.4L405.4,477.2L402.1,475.9L398.9,474.6L395.6,473.3L392.4,471.9L389.1,470.5L385.9,469.1L382.6,467.7L379.4,466.3L376.1,464.8L374.9,464.2L373.6,463.6L372.2,463L370.9,462.4L369.6,461.8L368.4,461.2L367.1,460.6L365.8,460L364.4,459.4L363.1,458.8L361.9,458.2L360.6,457.6L359.2,457L357.9,456.4L356.6,455.8L355.4,455.2L354.1,454.6L352.8,454L351.4,453.5L350.1,452.9L348.9,452.3L347.6,451.7L346.2,451.2L344.9,450.6L343.6,450.1L342.4,449.6L341.1,449.1L339.8,448.6L338.4,448.2L337.1,448L335.9,448L334.6,448.2L333.2,448.6L331.9,449.1L330.6,449.6L329.4,450.1L328.1,450.6L326.8,451.2L325.4,451.7L324.1,452.3L322.9,452.9L321.6,453.5L320.2,454L318.9,454.6L317.6,455.2L316.4,455.8L315.1,456.4L313.8,457L312.4,457.6L311.1,458.2L309.9,458.8L308.6,459.4L307.2,460L305.9,460.6L304.6,461.2L303.4,461.8L302.1,462.4L300.8,463L299.4,463.6L296.2,465.1L292.9,466.6L289.7,468L286.4,469.4L283.2,470.8L279.9,472.2L276.7,473.5L273.4,474.8L270.2,476.1L266.9,477.4L263.7,478.7L260.4,479.9L257.2,481.1L253.9,482.3L250.7,483.4L247.4,484.5L244.2,485.6L240.9,486.7L237.7,487.8L234.4,488.8L231.2,489.8L227.9,490.8L224.7,491.8L221.4,492.7L218.2,493.6L214.9,494.5L211.7,495.4L208.5,496.3L205.2,497.1L202,497.9L198.7,498.7L195.5,499.5L192.2,500.3L189,501L185.7,501.8L182.5,502.5L179.2,503.2L176,503.8L172.7,504.5L169.5,505.2L166.2,505.8L163,506.4L159.7,507L156.5,507.6L153.2,508.2L150,508.7L146.7,509.3L143.5,509.8L140.2,510.3L137,510.9L133.7,511.4L130.5,511.8L127.2,512.3L123.9,512.8L120.7,513.2L117.4,513.7L114.2,514.1L110.9,514.5L107.7,514.9L104.4,515.3L101.2,515.7L97.9,516.1L94.7,516.5L91.4,516.8L88.2,517.2L84.9,517.5L81.7,517.9L78.4,518.2L75.2,518.5L71.9,518.8L68.7,519.1Z" fill="#e6e7e8" stroke="#e6e7e8" stroke-width="1.5" stroke-linejoin="round"/>
<path d="M68.7,497.2L71.9,496.6L75.2,496.1L78.4,495.6L81.7,495L84.9,494.4L88.2,493.8L91.4,493.2L94.7,492.6L97.9,492L101.2,491.4L104.4,490.8L107.7,490.1L110.9,489.4L114.2,488.8L117.4,488.1L120.7,487.4L123.9,486.6L127.2,485.9L130.5,485.2L133.7,484.4L137,483.6L140.2,482.8L143.5,482L146.7,481.2L150,480.4L153.2,479.5L156.5,478.6L159.7,477.8L163,476.9L166.2,475.9L169.5,475L172.7,474L176,473.1L179.2,472.1L182.5,471L185.7,470L189,468.9L192.2,467.9L195.5,466.8L198.7,465.6L202,464.5L205.2,463.3L208.5,462.2L211.7,460.9L214.9,459.7L218.2,458.5L221.4,457.2L224.7,455.9L227.9,454.5L231.2,453.2L234.4,451.8L237.7,450.4L240.9,448.9L244.2,447.5L247.4,446L250.7,444.5L253.9,442.9L257.2,441.3L260.4,439.7L263.7,438.1L266.9,436.4L270.2,434.8L273.4,433L276.7,431.3L279.9,429.5L283.2,427.7L286.4,425.9L289.7,424.1L292.9,422.2L296.2,420.3L299.4,418.4L300.8,417.6L302.1,416.9L303.4,416.1L304.6,415.3L305.9,414.6L307.2,413.8L308.6,413L309.9,412.2L311.1,411.5L312.4,410.7L313.8,409.9L315.1,409.2L316.4,408.4L317.6,407.6L318.9,406.9L320.2,406.1L321.6,405.4L322.9,404.7L324.1,403.9L325.4,403.2L326.8,402.5L328.1,401.8L329.4,401.1L330.6,400.5L331.9,399.9L333.2,399.3L334.6,398.8L335.9,398.5L337.1,398.5L338.4,398.8L339.8,399.3L341.1,399.9L342.4,400.5L343.6,401.1L344.9,401.8L346.2,402.5L347.6,403.2L348.9,403.9L350.1,404.7L351.4,405.4L352.8,406.1L354.1,406.9L355.4,407.6L356.6,408.4L357.9,409.2L359.2,409.9L360.6,410.7L361.9,411.5L363.1,412.2L364.4,413L365.8,413.8L367.1,414.6L368.4,415.3L369.6,416.1L370.9,416.9L372.2,417.6L373.6,418.4L374.9,419.2L376.1,419.9L379.4,421.8L382.6,423.7L385.9,425.5L389.1,427.4L392.4,429.2L395.6,430.9L398.9,432.7L402.1,434.4L405.4,436.1L408.6,437.8L411.9,439.4L415.1,441L418.4,442.6L421.6,444.2L424.9,445.7L428.1,447.2L431.4,448.7L434.6,450.1L437.9,451.5L441.1,452.9L444.4,454.3L447.6,455.6L450.9,456.9L454.1,458.2L457.4,459.5L460.6,460.7L463.9,461.9L467.1,463.1L470.4,464.3L473.6,465.4L476.9,466.5L480.1,467.6L483.4,468.7L486.6,469.8L489.9,470.8L493.1,471.9L496.4,472.9L499.6,473.8L502.9,474.8L506.1,475.7L509.4,476.7L512.6,477.6L515.9,478.5L519.1,479.3L522.4,480.2L525.6,481L528.9,481.9L532.1,482.7L535.4,483.5L538.6,484.3L541.9,485L545.1,485.8L548.4,486.5L551.6,487.2L554.9,487.9L558.1,488.6L561.4,489.3L564.6,490L567.9,490.6L571.1,491.3L574.4,491.9L577.6,492.5L580.9,493.1L584.1,493.7L587.4,494.3L590.6,494.9L593.9,495.4L597.2,496L600.4,496.5L603.7,497.1L603.7,511.7L600.4,511.4L597.2,511L593.9,510.6L590.6,510.2L587.4,509.7L584.1,509.3L580.9,508.9L577.6,508.4L574.4,508L571.1,507.5L567.9,507L564.6,506.6L561.4,506.1L558.1,505.6L554.9,505L551.6,504.5L548.4,504L545.1,503.4L541.9,502.8L538.6,502.3L535.4,501.7L532.1,501.1L528.9,500.4L525.6,499.8L522.4,499.2L519.1,498.5L515.9,497.8L512.6,497.1L509.4,496.4L506.1,495.7L502.9,495L499.6,494.2L496.4,493.4L493.1,492.6L489.9,491.8L486.6,491L483.4,490.2L480.1,489.3L476.9,488.4L473.6,487.5L470.4,486.6L467.1,485.7L463.9,484.7L460.6,483.7L457.4,482.7L454.1,481.7L450.9,480.6L447.6,479.6L444.4,478.5L441.1,477.4L437.9,476.2L434.6,475.1L431.4,473.9L428.1,472.7L424.9,471.4L421.6,470.2L418.4,468.9L415.1,467.6L411.9,466.2L408.6,464.9L405.4,463.5L402.1,462.1L398.9,460.6L395.6,459.2L392.4,457.7L389.1,456.1L385.9,454.6L382.6,453L379.4,451.4L376.1,449.8L374.9,449.2L373.6,448.5L372.2,447.9L370.9,447.2L369.6,446.6L368.4,445.9L367.1,445.3L365.8,444.6L364.4,444L363.1,443.3L361.9,442.6L360.6,442L359.2,441.3L357.9,440.7L356.6,440L355.4,439.4L354.1,438.7L352.8,438.1L351.4,437.4L350.1,436.8L348.9,436.2L347.6,435.6L346.2,435L344.9,434.4L343.6,433.8L342.4,433.2L341.1,432.7L339.8,432.2L338.4,431.8L337.1,431.5L335.9,431.5L334.6,431.8L333.2,432.2L331.9,432.7L330.6,433.2L329.4,433.8L328.1,434.4L326.8,435L325.4,435.6L324.1,436.2L322.9,436.8L321.6,437.4L320.2,438.1L318.9,438.7L317.6,439.4L316.4,440L315.1,440.7L313.8,441.3L312.4,442L311.1,442.6L309.9,443.3L308.6,444L307.2,444.6L305.9,445.3L304.6,445.9L303.4,446.6L302.1,447.2L300.8,447.9L299.4,448.5L296.2,450.2L292.9,451.8L289.7,453.3L286.4,454.9L283.2,456.4L279.9,458L276.7,459.4L273.4,460.9L270.2,462.4L266.9,463.8L263.7,465.2L260.4,466.5L257.2,467.8L253.9,469.2L250.7,470.4L247.4,471.7L244.2,472.9L240.9,474.1L237.7,475.3L234.4,476.5L231.2,477.6L227.9,478.7L224.7,479.8L221.4,480.9L218.2,481.9L214.9,482.9L211.7,483.9L208.5,484.9L205.2,485.8L202,486.8L198.7,487.7L195.5,488.6L192.2,489.5L189,490.3L185.7,491.2L182.5,492L179.2,492.8L176,493.6L172.7,494.3L169.5,495.1L166.2,495.8L163,496.6L159.7,497.3L156.5,498L153.2,498.6L150,499.3L146.7,499.9L143.5,500.6L140.2,501.2L137,501.8L133.7,502.4L130.5,503L127.2,503.5L123.9,504.1L120.7,504.6L117.4,505.1L114.2,505.7L110.9,506.2L107.7,506.7L104.4,507.1L101.2,507.6L97.9,508.1L94.7,508.5L91.4,509L88.2,509.4L84.9,509.8L81.7,510.2L78.4,510.6L75.2,511L71.9,511.4L68.7,511.8Z" fill="#d1d3d4" stroke="#d1d3d4" stroke-width="1.5" stroke-linejoin="round"/>
<path d="M68.7,502.8L71.9,502.3L75.2,501.9L78.4,501.4L81.7,500.9L84.9,500.4L88.2,499.9L91.4,499.4L94.7,498.9L97.9,498.3L101.2,497.8L104.4,497.2L107.7,496.7L110.9,496.1L114.2,495.5L117.4,494.9L120.7,494.3L123.9,493.6L127.2,493L130.5,492.3L133.7,491.7L137,491L140.2,490.3L143.5,489.6L146.7,488.9L150,488.1L153.2,487.4L156.5,486.6L159.7,485.8L163,485L166.2,484.2L169.5,483.3L172.7,482.4L176,481.6L179.2,480.7L182.5,479.8L185.7,478.8L189,477.9L192.2,476.9L195.5,475.9L198.7,474.9L202,473.8L205.2,472.7L208.5,471.7L211.7,470.5L214.9,469.4L218.2,468.2L221.4,467L224.7,465.8L227.9,464.6L231.2,463.3L234.4,462L237.7,460.7L240.9,459.3L244.2,457.9L247.4,456.5L250.7,455L253.9,453.6L257.2,452.1L260.4,450.5L263.7,448.9L266.9,447.3L270.2,445.7L273.4,444.1L276.7,442.4L279.9,440.7L283.2,438.9L286.4,437.2L289.7,435.4L292.9,433.6L296.2,431.7L299.4,429.9L300.8,429.2L302.1,428.4L303.4,427.7L304.6,427L305.9,426.2L307.2,425.5L308.6,424.7L309.9,424L311.1,423.3L312.4,422.5L313.8,421.8L315.1,421.1L316.4,420.3L317.6,419.6L318.9,418.9L320.2,418.2L321.6,417.5L322.9,416.8L324.1,416.1L325.4,415.4L326.8,414.7L328.1,414.1L329.4,413.4L330.6,412.8L331.9,412.2L333.2,411.7L334.6,411.2L335.9,410.9L337.1,410.9L338.4,411.2L339.8,411.7L341.1,412.2L342.4,412.8L343.6,413.4L344.9,414.1L346.2,414.7L347.6,415.4L348.9,416.1L350.1,416.8L351.4,417.5L352.8,418.2L354.1,418.9L355.4,419.6L356.6,420.3L357.9,421.1L359.2,421.8L360.6,422.5L361.9,423.3L363.1,424L364.4,424.7L365.8,425.5L367.1,426.2L368.4,427L369.6,427.7L370.9,428.4L372.2,429.2L373.6,429.9L374.9,430.6L376.1,431.4L379.4,433.2L382.6,435L385.9,436.8L389.1,438.6L392.4,440.3L395.6,442L398.9,443.7L402.1,445.4L405.4,447L408.6,448.6L411.9,450.2L415.1,451.8L418.4,453.3L421.6,454.8L424.9,456.2L428.1,457.6L431.4,459L434.6,460.4L437.9,461.7L441.1,463L444.4,464.3L447.6,465.6L450.9,466.8L454.1,468L457.4,469.2L460.6,470.3L463.9,471.4L467.1,472.5L470.4,473.6L473.6,474.7L476.9,475.7L480.1,476.7L483.4,477.7L486.6,478.6L489.9,479.6L493.1,480.5L496.4,481.4L499.6,482.3L502.9,483.1L506.1,484L509.4,484.8L512.6,485.6L515.9,486.4L519.1,487.2L522.4,488L525.6,488.7L528.9,489.4L532.1,490.2L535.4,490.9L538.6,491.5L541.9,492.2L545.1,492.9L548.4,493.5L551.6,494.1L554.9,494.8L558.1,495.4L561.4,496L564.6,496.6L567.9,497.1L571.1,497.7L574.4,498.2L577.6,498.8L580.9,499.3L584.1,499.8L587.4,500.3L590.6,500.8L593.9,501.3L597.2,501.8L600.4,502.2L603.7,502.7" fill="none" stroke="#d2232a" stroke-width="0.9" stroke-dasharray="2.6 1.5"/>
<path d="M68.7,506.2L71.9,505.7L75.2,505.3L78.4,504.8L81.7,504.3L84.9,503.8L88.2,503.3L91.4,502.8L94.7,502.3L97.9,501.8L101.2,501.2L104.4,500.7L107.7,500.1L110.9,499.5L114.2,498.9L117.4,498.3L120.7,497.7L123.9,497.1L127.2,496.4L130.5,495.8L133.7,495.1L137,494.4L140.2,493.7L143.5,493L146.7,492.3L150,491.5L153.2,490.8L156.5,490L159.7,489.2L163,488.4L166.2,487.6L169.5,486.8L172.7,485.9L176,485.1L179.2,484.2L182.5,483.3L185.7,482.4L189,481.4L192.2,480.5L195.5,479.5L198.7,478.5L202,477.5L205.2,476.4L208.5,475.4L211.7,474.3L214.9,473.2L218.2,472.1L221.4,471L224.7,469.8L227.9,468.7L231.2,467.5L234.4,466.3L237.7,465L240.9,463.8L244.2,462.5L247.4,461.2L250.7,459.9L253.9,458.5L257.2,457.1L260.4,455.7L263.7,454.3L266.9,452.9L270.2,451.4L273.4,449.9L276.7,448.4L279.9,446.8L283.2,445.3L286.4,443.7L289.7,442L292.9,440.4L296.2,438.7L299.4,437L300.8,436.4L302.1,435.7L303.4,435L304.6,434.3L305.9,433.6L307.2,432.9L308.6,432.2L309.9,431.5L311.1,430.9L312.4,430.2L313.8,429.5L315.1,428.8L316.4,428.1L317.6,427.4L318.9,426.7L320.2,426L321.6,425.4L322.9,424.7L324.1,424L325.4,423.4L326.8,422.7L328.1,422.1L329.4,421.5L330.6,420.9L331.9,420.3L333.2,419.8L334.6,419.3L335.9,419L337.1,419L338.4,419.3L339.8,419.8L341.1,420.3L342.4,420.9L343.6,421.5L344.9,422.1L346.2,422.7L347.6,423.4L348.9,424L350.1,424.7L351.4,425.4L352.8,426L354.1,426.7L355.4,427.4L356.6,428.1L357.9,428.8L359.2,429.5L360.6,430.2L361.9,430.9L363.1,431.5L364.4,432.2L365.8,432.9L367.1,433.6L368.4,434.3L369.6,435L370.9,435.7L372.2,436.4L373.6,437L374.9,437.7L376.1,438.4L379.4,440.1L382.6,441.7L385.9,443.3L389.1,444.9L392.4,446.5L395.6,448.1L398.9,449.6L402.1,451.1L405.4,452.6L408.6,454L411.9,455.5L415.1,456.9L418.4,458.2L421.6,459.6L424.9,460.9L428.1,462.2L431.4,463.5L434.6,464.8L437.9,466L441.1,467.2L444.4,468.4L447.6,469.6L450.9,470.8L454.1,471.9L457.4,473L460.6,474.1L463.9,475.2L467.1,476.2L470.4,477.3L473.6,478.3L476.9,479.3L480.1,480.3L483.4,481.2L486.6,482.2L489.9,483.1L493.1,484L496.4,484.9L499.6,485.8L502.9,486.6L506.1,487.4L509.4,488.3L512.6,489.1L515.9,489.9L519.1,490.6L522.4,491.4L525.6,492.1L528.9,492.9L532.1,493.6L535.4,494.3L538.6,495L541.9,495.6L545.1,496.3L548.4,496.9L551.6,497.6L554.9,498.2L558.1,498.8L561.4,499.4L564.6,500L567.9,500.5L571.1,501.1L574.4,501.7L577.6,502.2L580.9,502.7L584.1,503.2L587.4,503.7L590.6,504.2L593.9,504.7L597.2,505.2L600.4,505.7L603.7,506.1" fill="none" stroke="#d2232a" stroke-width="0.9" stroke-dasharray="2.6 1.5"/>
<path d="M68.7,504.5L71.9,504L75.2,503.6L78.4,503.1L81.7,502.6L84.9,502.1L88.2,501.6L91.4,501.1L94.7,500.6L97.9,500.1L101.2,499.5L104.4,498.9L107.7,498.4L110.9,497.8L114.2,497.2L117.4,496.6L120.7,496L123.9,495.4L127.2,494.7L130.5,494.1L133.7,493.4L137,492.7L140.2,492L143.5,491.3L146.7,490.6L150,489.8L153.2,489.1L156.5,488.3L159.7,487.5L163,486.7L166.2,485.9L169.5,485L172.7,484.2L176,483.3L179.2,482.4L182.5,481.5L185.7,480.6L189,479.6L192.2,478.7L195.5,477.7L198.7,476.7L202,475.6L205.2,474.6L208.5,473.5L211.7,472.4L214.9,471.3L218.2,470.2L221.4,469L224.7,467.8L227.9,466.6L231.2,465.4L234.4,464.1L237.7,462.8L240.9,461.5L244.2,460.2L247.4,458.8L250.7,457.5L253.9,456L257.2,454.6L260.4,453.1L263.7,451.6L266.9,450.1L270.2,448.6L273.4,447L276.7,445.4L279.9,443.7L283.2,442.1L286.4,440.4L289.7,438.7L292.9,437L296.2,435.2L299.4,433.5L300.8,432.8L302.1,432.1L303.4,431.3L304.6,430.6L305.9,429.9L307.2,429.2L308.6,428.5L309.9,427.8L311.1,427.1L312.4,426.3L313.8,425.6L315.1,424.9L316.4,424.2L317.6,423.5L318.9,422.8L320.2,422.1L321.6,421.4L322.9,420.7L324.1,420.1L325.4,419.4L326.8,418.7L328.1,418.1L329.4,417.5L330.6,416.8L331.9,416.3L333.2,415.7L334.6,415.3L335.9,415L337.1,415L338.4,415.3L339.8,415.7L341.1,416.3L342.4,416.8L343.6,417.5L344.9,418.1L346.2,418.7L347.6,419.4L348.9,420.1L350.1,420.7L351.4,421.4L352.8,422.1L354.1,422.8L355.4,423.5L356.6,424.2L357.9,424.9L359.2,425.6L360.6,426.3L361.9,427.1L363.1,427.8L364.4,428.5L365.8,429.2L367.1,429.9L368.4,430.6L369.6,431.3L370.9,432.1L372.2,432.8L373.6,433.5L374.9,434.2L376.1,434.9L379.4,436.6L382.6,438.4L385.9,440.1L389.1,441.8L392.4,443.4L395.6,445L398.9,446.7L402.1,448.2L405.4,449.8L408.6,451.3L411.9,452.8L415.1,454.3L418.4,455.8L421.6,457.2L424.9,458.6L428.1,459.9L431.4,461.3L434.6,462.6L437.9,463.9L441.1,465.1L444.4,466.4L447.6,467.6L450.9,468.8L454.1,469.9L457.4,471.1L460.6,472.2L463.9,473.3L467.1,474.4L470.4,475.4L473.6,476.5L476.9,477.5L480.1,478.5L483.4,479.4L486.6,480.4L489.9,481.3L493.1,482.2L496.4,483.1L499.6,484L502.9,484.9L506.1,485.7L509.4,486.5L512.6,487.3L515.9,488.1L519.1,488.9L522.4,489.7L525.6,490.4L528.9,491.2L532.1,491.9L535.4,492.6L538.6,493.3L541.9,493.9L545.1,494.6L548.4,495.2L551.6,495.9L554.9,496.5L558.1,497.1L561.4,497.7L564.6,498.3L567.9,498.8L571.1,499.4L574.4,499.9L577.6,500.5L580.9,501L584.1,501.5L587.4,502L590.6,502.5L593.9,503L597.2,503.5L600.4,503.9L603.7,504.4" fill="none" stroke="#d2232a" stroke-width="1.35"/>
<g fill="#3c3b80"><circle cx="76.6" cy="489.7" r="2.5"/><circle cx="79.9" cy="492.2" r="2.5"/><circle cx="83.3" cy="519.1" r="2.5"/><circle cx="86.6" cy="494.6" r="2.5"/><circle cx="89.9" cy="489.7" r="2.5"/><circle cx="93.2" cy="497.1" r="2.5"/><circle cx="96.6" cy="494.6" r="2.5"/><circle cx="99.9" cy="497.1" r="2.5"/><circle cx="103.2" cy="494.6" r="2.5"/><circle cx="106.6" cy="504.4" r="2.5"/><circle cx="109.9" cy="492.2" r="2.5"/><circle cx="113.2" cy="494.6" r="2.5"/><circle cx="116.6" cy="484.8" r="2.5"/><circle cx="119.9" cy="501.9" r="2.5"/><circle cx="123.2" cy="494.6" r="2.5"/><circle cx="126.5" cy="494.6" r="2.5"/><circle cx="129.9" cy="501.9" r="2.5"/><circle cx="133.2" cy="492.2" r="2.5"/><circle cx="136.5" cy="509.3" r="2.5"/><circle cx="139.9" cy="487.3" r="2.5"/><circle cx="143.2" cy="487.3" r="2.5"/><circle cx="146.5" cy="489.7" r="2.5"/><circle cx="149.9" cy="475.1" r="2.5"/><circle cx="153.2" cy="482.4" r="2.5"/><circle cx="156.5" cy="472.6" r="2.5"/><circle cx="159.8" cy="472.6" r="2.5"/><circle cx="163.2" cy="484.8" r="2.5"/><circle cx="166.5" cy="470.2" r="2.5"/><circle cx="169.8" cy="484.8" r="2.5"/><circle cx="173.2" cy="484.8" r="2.5"/><circle cx="176.5" cy="494.6" r="2.5"/><circle cx="179.8" cy="484.8" r="2.5"/><circle cx="183.2" cy="470.2" r="2.5"/><circle cx="186.5" cy="472.6" r="2.5"/><circle cx="189.8" cy="477.5" r="2.5"/><circle cx="193.1" cy="475.1" r="2.5"/><circle cx="196.5" cy="475.1" r="2.5"/><circle cx="199.8" cy="465.3" r="2.5"/><circle cx="203.1" cy="487.3" r="2.5"/><circle cx="206.5" cy="470.2" r="2.5"/><circle cx="209.8" cy="460.4" r="2.5"/><circle cx="213.1" cy="467.7" r="2.5"/><circle cx="216.5" cy="470.2" r="2.5"/><circle cx="219.8" cy="448.2" r="2.5"/><circle cx="223.1" cy="475.1" r="2.5"/><circle cx="226.4" cy="448.2" r="2.5"/><circle cx="229.8" cy="475.1" r="2.5"/><circle cx="233.1" cy="475.1" r="2.5"/><circle cx="236.4" cy="477.5" r="2.5"/><circle cx="239.8" cy="475.1" r="2.5"/><circle cx="243.1" cy="453" r="2.5"/><circle cx="246.4" cy="470.2" r="2.5"/><circle cx="249.8" cy="457.9" r="2.5"/><circle cx="253.1" cy="455.5" r="2.5"/><circle cx="256.4" cy="455.5" r="2.5"/><circle cx="259.8" cy="453" r="2.5"/><circle cx="263.1" cy="450.6" r="2.5"/><circle cx="266.4" cy="457.9" r="2.5"/><circle cx="269.7" cy="455.5" r="2.5"/><circle cx="273.1" cy="418.8" r="2.5"/><circle cx="276.4" cy="440.8" r="2.5"/><circle cx="279.7" cy="426.2" r="2.5"/><circle cx="283.1" cy="462.8" r="2.5"/><circle cx="286.4" cy="433.5" r="2.5"/><circle cx="289.7" cy="423.7" r="2.5"/><circle cx="293.1" cy="421.3" r="2.5"/><circle cx="296.4" cy="453" r="2.5"/><circle cx="299.7" cy="426.2" r="2.5"/><circle cx="303" cy="423.7" r="2.5"/><circle cx="306.4" cy="423.7" r="2.5"/><circle cx="309.7" cy="418.8" r="2.5"/><circle cx="313" cy="418.8" r="2.5"/><circle cx="316.4" cy="418.8" r="2.5"/><circle cx="319.7" cy="423.7" r="2.5"/><circle cx="323" cy="413.9" r="2.5"/><circle cx="326.4" cy="438.4" r="2.5"/><circle cx="329.7" cy="421.3" r="2.5"/><circle cx="333" cy="413.9" r="2.5"/><circle cx="336.3" cy="409" r="2.5"/><circle cx="339.7" cy="450.6" r="2.5"/><circle cx="343" cy="396.8" r="2.5"/><circle cx="346.3" cy="431" r="2.5"/><circle cx="349.7" cy="440.8" r="2.5"/><circle cx="353" cy="399.3" r="2.5"/><circle cx="356.3" cy="404.1" r="2.5"/><circle cx="359.6" cy="443.3" r="2.5"/><circle cx="363" cy="423.7" r="2.5"/><circle cx="366.3" cy="443.3" r="2.5"/><circle cx="369.6" cy="416.4" r="2.5"/><circle cx="373" cy="433.5" r="2.5"/><circle cx="376.3" cy="431" r="2.5"/><circle cx="379.6" cy="433.5" r="2.5"/><circle cx="383" cy="435.9" r="2.5"/><circle cx="386.3" cy="438.4" r="2.5"/><circle cx="389.6" cy="438.4" r="2.5"/><circle cx="393" cy="445.7" r="2.5"/><circle cx="396.3" cy="448.2" r="2.5"/><circle cx="399.6" cy="460.4" r="2.5"/><circle cx="402.9" cy="453" r="2.5"/><circle cx="406.3" cy="440.8" r="2.5"/><circle cx="409.6" cy="448.2" r="2.5"/><circle cx="412.9" cy="428.6" r="2.5"/><circle cx="416.3" cy="460.4" r="2.5"/><circle cx="419.6" cy="431" r="2.5"/><circle cx="422.9" cy="467.7" r="2.5"/><circle cx="426.2" cy="462.8" r="2.5"/><circle cx="429.6" cy="465.3" r="2.5"/><circle cx="432.9" cy="445.7" r="2.5"/><circle cx="436.2" cy="470.2" r="2.5"/><circle cx="439.6" cy="453" r="2.5"/><circle cx="442.9" cy="460.4" r="2.5"/><circle cx="446.2" cy="494.6" r="2.5"/><circle cx="449.6" cy="460.4" r="2.5"/><circle cx="452.9" cy="472.6" r="2.5"/><circle cx="456.2" cy="475.1" r="2.5"/><circle cx="459.5" cy="453" r="2.5"/><circle cx="462.9" cy="465.3" r="2.5"/><circle cx="466.2" cy="457.9" r="2.5"/><circle cx="469.5" cy="470.2" r="2.5"/><circle cx="472.9" cy="487.3" r="2.5"/><circle cx="476.2" cy="470.2" r="2.5"/><circle cx="479.5" cy="450.6" r="2.5"/><circle cx="482.9" cy="482.4" r="2.5"/><circle cx="486.2" cy="470.2" r="2.5"/><circle cx="489.5" cy="479.9" r="2.5"/><circle cx="492.9" cy="487.3" r="2.5"/><circle cx="496.2" cy="467.7" r="2.5"/><circle cx="499.5" cy="487.3" r="2.5"/><circle cx="502.8" cy="479.9" r="2.5"/><circle cx="506.2" cy="475.1" r="2.5"/><circle cx="509.5" cy="487.3" r="2.5"/><circle cx="512.8" cy="487.3" r="2.5"/><circle cx="516.2" cy="475.1" r="2.5"/><circle cx="519.5" cy="484.8" r="2.5"/><circle cx="522.8" cy="484.8" r="2.5"/><circle cx="526.1" cy="501.9" r="2.5"/><circle cx="529.5" cy="511.7" r="2.5"/><circle cx="532.8" cy="501.9" r="2.5"/><circle cx="536.1" cy="479.9" r="2.5"/><circle cx="539.5" cy="494.6" r="2.5"/><circle cx="542.8" cy="494.6" r="2.5"/><circle cx="546.1" cy="504.4" r="2.5"/><circle cx="549.5" cy="479.9" r="2.5"/><circle cx="552.8" cy="472.6" r="2.5"/><circle cx="556.1" cy="487.3" r="2.5"/><circle cx="559.5" cy="484.8" r="2.5"/><circle cx="562.8" cy="499.5" r="2.5"/><circle cx="566.1" cy="497.1" r="2.5"/><circle cx="569.4" cy="511.7" r="2.5"/><circle cx="572.8" cy="499.5" r="2.5"/><circle cx="576.1" cy="494.6" r="2.5"/><circle cx="579.4" cy="506.8" r="2.5"/><circle cx="582.8" cy="489.7" r="2.5"/><circle cx="586.1" cy="497.1" r="2.5"/><circle cx="589.4" cy="506.8" r="2.5"/><circle cx="592.8" cy="499.5" r="2.5"/><circle cx="596.1" cy="504.4" r="2.5"/></g>
</g>
<path d="M76.5,521 v-3.6 M76.5,379.7 v3.6 M102.5,521 v-2.8 M102.5,379.7 v2.8 M128.5,521 v-2.8 M128.5,379.7 v2.8 M154.5,521 v-2.8 M154.5,379.7 v2.8 M180.5,521 v-2.8 M180.5,379.7 v2.8 M206.5,521 v-3.6 M206.5,379.7 v3.6 M232.5,521 v-2.8 M232.5,379.7 v2.8 M258.5,521 v-2.8 M258.5,379.7 v2.8 M284.5,521 v-2.8 M284.5,379.7 v2.8 M310.5,521 v-2.8 M310.5,379.7 v2.8 M336.5,521 v-3.6 M336.5,379.7 v3.6 M362.5,521 v-2.8 M362.5,379.7 v2.8 M388.5,521 v-2.8 M388.5,379.7 v2.8 M414.5,521 v-2.8 M414.5,379.7 v2.8 M440.5,521 v-2.8 M440.5,379.7 v2.8 M466.5,521 v-3.6 M466.5,379.7 v3.6 M492.5,521 v-2.8 M492.5,379.7 v2.8 M518.5,521 v-2.8 M518.5,379.7 v2.8 M544.5,521 v-2.8 M544.5,379.7 v2.8 M570.5,521 v-2.8 M570.5,379.7 v2.8 M596.5,521 v-3.6 M596.5,379.7 v3.6 M69.8,501.9 h5.2 M604.6,501.9 h-5.2 M69.8,477.5 h5.2 M604.6,477.5 h-5.2 M69.8,453 h5.2 M604.6,453 h-5.2 M69.8,428.6 h5.2 M604.6,428.6 h-5.2 M69.8,404.1 h5.2 M604.6,404.1 h-5.2" stroke="#231f20" stroke-width="1.15" fill="none"/>
<rect x="69.8" y="379.7" width="534.8" height="141.3" fill="none" stroke="#231f20" stroke-width="1.4"/>
<g clip-path="url(#cp1)">
<path d="M68.7,644.7L71.9,644.1L75.2,643.5L78.4,642.9L81.7,642.2L84.9,641.6L88.2,640.9L91.4,640.2L94.7,639.5L97.9,638.8L101.2,638.1L104.4,637.4L107.7,636.6L110.9,635.9L114.2,635.1L117.4,634.3L120.7,633.5L123.9,632.7L127.2,631.9L130.5,631L133.7,630.2L137,629.3L140.2,628.4L143.5,627.5L146.7,626.6L150,625.6L153.2,624.7L156.5,623.7L159.7,622.7L163,621.7L166.2,620.6L169.5,619.6L172.7,618.5L176,617.4L179.2,616.3L182.5,615.2L185.7,614L189,612.8L192.2,611.6L195.5,610.4L198.7,609.2L202,607.9L205.2,606.6L208.5,605.3L211.7,604L214.9,602.6L218.2,601.2L221.4,599.8L224.7,598.4L227.9,596.9L231.2,595.4L234.4,593.9L237.7,592.3L240.9,590.7L244.2,589.1L247.4,587.5L250.7,585.8L253.9,584.1L257.2,582.4L260.4,580.7L263.7,578.9L266.9,577.1L270.2,575.2L273.4,573.3L276.7,571.4L279.9,569.5L283.2,567.6L286.4,565.6L289.7,563.6L292.9,561.6L296.2,559.6L299.4,557.6L300.8,556.9L302.1,556.2L303.4,555.5L304.6,554.8L305.9,554.3L307.2,553.8L308.6,553.5L309.9,553.2L311.1,553.2L312.4,553.4L313.8,553.8L315.1,554.6L316.4,555.8L317.6,557.3L318.9,559.4L320.2,562L321.6,565.2L322.9,569L324.1,573.4L325.4,578.4L326.8,584L328.1,590.1L329.4,596.6L330.6,603.1L331.9,609.5L333.2,615.4L334.6,620.3L335.9,623.7L337.1,623.7L338.4,620.3L339.8,615.4L341.1,609.5L342.4,603.1L343.6,596.6L344.9,590.1L346.2,584L347.6,578.4L348.9,573.4L350.1,569L351.4,565.2L352.8,562L354.1,559.4L355.4,557.3L356.6,555.8L357.9,554.6L359.2,553.8L360.6,553.4L361.9,553.2L363.1,553.2L364.4,553.5L365.8,553.8L367.1,554.3L368.4,554.8L369.6,555.5L370.9,556.2L372.2,556.9L373.6,557.6L374.9,558.4L376.1,559.2L379.4,561.2L382.6,563.2L385.9,565.2L389.1,567.2L392.4,569.1L395.6,571.1L398.9,573L402.1,574.8L405.4,576.7L408.6,578.5L411.9,580.3L415.1,582.1L418.4,583.8L421.6,585.5L424.9,587.2L428.1,588.8L431.4,590.4L434.6,592L437.9,593.6L441.1,595.1L444.4,596.6L447.6,598.1L450.9,599.5L454.1,600.9L457.4,602.3L460.6,603.7L463.9,605L467.1,606.4L470.4,607.7L473.6,608.9L476.9,610.2L480.1,611.4L483.4,612.6L486.6,613.8L489.9,614.9L493.1,616.1L496.4,617.2L499.6,618.3L502.9,619.4L506.1,620.4L509.4,621.5L512.6,622.5L515.9,623.5L519.1,624.5L522.4,625.4L525.6,626.4L528.9,627.3L532.1,628.2L535.4,629.1L538.6,630L541.9,630.9L545.1,631.7L548.4,632.5L551.6,633.3L554.9,634.2L558.1,634.9L561.4,635.7L564.6,636.5L567.9,637.2L571.1,638L574.4,638.7L577.6,639.4L580.9,640.1L584.1,640.8L587.4,641.4L590.6,642.1L593.9,642.7L597.2,643.4L600.4,644L603.7,644.6L603.7,674.2L600.4,673.9L597.2,673.6L593.9,673.3L590.6,672.9L587.4,672.6L584.1,672.2L580.9,671.9L577.6,671.5L574.4,671.1L571.1,670.7L567.9,670.4L564.6,669.9L561.4,669.5L558.1,669.1L554.9,668.7L551.6,668.2L548.4,667.8L545.1,667.3L541.9,666.8L538.6,666.3L535.4,665.8L532.1,665.3L528.9,664.8L525.6,664.2L522.4,663.7L519.1,663.1L515.9,662.5L512.6,661.9L509.4,661.3L506.1,660.7L502.9,660L499.6,659.4L496.4,658.7L493.1,658L489.9,657.3L486.6,656.6L483.4,655.8L480.1,655.1L476.9,654.3L473.6,653.5L470.4,652.7L467.1,651.9L463.9,651L460.6,650.2L457.4,649.3L454.1,648.3L450.9,647.4L447.6,646.5L444.4,645.5L441.1,644.5L437.9,643.5L434.6,642.4L431.4,641.4L428.1,640.3L424.9,639.1L421.6,638L418.4,636.8L415.1,635.6L411.9,634.4L408.6,633.2L405.4,631.9L402.1,630.6L398.9,629.3L395.6,628L392.4,626.6L389.1,625.2L385.9,623.8L382.6,622.4L379.4,620.9L376.1,619.5L374.9,619L373.6,618.4L372.2,617.9L370.9,617.3L369.6,616.8L368.4,616.4L367.1,616L365.8,615.6L364.4,615.4L363.1,615.2L361.9,615.2L360.6,615.3L359.2,615.7L357.9,616.2L356.6,617.1L355.4,618.2L354.1,619.7L352.8,621.5L351.4,623.8L350.1,626.5L348.9,629.6L347.6,633.1L346.2,637L344.9,641.2L343.6,645.5L342.4,649.8L341.1,653.9L339.8,657.6L338.4,660.6L337.1,662.6L335.9,662.6L334.6,660.6L333.2,657.6L331.9,653.9L330.6,649.8L329.4,645.5L328.1,641.2L326.8,637L325.4,633.1L324.1,629.6L322.9,626.5L321.6,623.8L320.2,621.5L318.9,619.7L317.6,618.2L316.4,617.1L315.1,616.2L313.8,615.7L312.4,615.3L311.1,615.2L309.9,615.2L308.6,615.4L307.2,615.6L305.9,616L304.6,616.4L303.4,616.8L302.1,617.3L300.8,617.9L299.4,618.4L296.2,619.8L292.9,621.2L289.7,622.7L286.4,624.1L283.2,625.5L279.9,626.9L276.7,628.2L273.4,629.6L270.2,630.9L266.9,632.2L263.7,633.4L260.4,634.7L257.2,635.9L253.9,637.1L250.7,638.2L247.4,639.4L244.2,640.5L240.9,641.6L237.7,642.6L234.4,643.7L231.2,644.7L227.9,645.7L224.7,646.7L221.4,647.6L218.2,648.5L214.9,649.4L211.7,650.3L208.5,651.2L205.2,652L202,652.9L198.7,653.7L195.5,654.5L192.2,655.2L189,656L185.7,656.7L182.5,657.5L179.2,658.2L176,658.8L172.7,659.5L169.5,660.2L166.2,660.8L163,661.4L159.7,662L156.5,662.6L153.2,663.2L150,663.8L146.7,664.3L143.5,664.9L140.2,665.4L137,665.9L133.7,666.4L130.5,666.9L127.2,667.4L123.9,667.9L120.7,668.3L117.4,668.8L114.2,669.2L110.9,669.6L107.7,670L104.4,670.4L101.2,670.8L97.9,671.2L94.7,671.6L91.4,671.9L88.2,672.3L84.9,672.7L81.7,673L78.4,673.3L75.2,673.6L71.9,674L68.7,674.3Z" fill="#e6e7e8" stroke="#e6e7e8" stroke-width="1.5" stroke-linejoin="round"/>
<path d="M68.7,652.1L71.9,651.6L75.2,651L78.4,650.5L81.7,649.9L84.9,649.3L88.2,648.7L91.4,648.1L94.7,647.5L97.9,646.9L101.2,646.3L104.4,645.6L107.7,645L110.9,644.3L114.2,643.6L117.4,642.9L120.7,642.2L123.9,641.5L127.2,640.7L130.5,640L133.7,639.2L137,638.4L140.2,637.6L143.5,636.8L146.7,636L150,635.2L153.2,634.3L156.5,633.4L159.7,632.5L163,631.6L166.2,630.7L169.5,629.7L172.7,628.8L176,627.8L179.2,626.8L182.5,625.7L185.7,624.7L189,623.6L192.2,622.5L195.5,621.4L198.7,620.3L202,619.1L205.2,618L208.5,616.8L211.7,615.6L214.9,614.3L218.2,613L221.4,611.7L224.7,610.4L227.9,609.1L231.2,607.7L234.4,606.3L237.7,604.9L240.9,603.4L244.2,602L247.4,600.5L250.7,598.9L253.9,597.4L257.2,595.8L260.4,594.2L263.7,592.5L266.9,590.8L270.2,589.1L273.4,587.4L276.7,585.6L279.9,583.9L283.2,582L286.4,580.2L289.7,578.3L292.9,576.5L296.2,574.6L299.4,572.8L300.8,572.1L302.1,571.4L303.4,570.8L304.6,570.2L305.9,569.7L307.2,569.3L308.6,568.9L309.9,568.7L311.1,568.7L312.4,568.9L313.8,569.3L315.1,570L316.4,571.1L317.6,572.5L318.9,574.5L320.2,576.9L321.6,579.8L322.9,583.3L324.1,587.4L325.4,592.1L326.8,597.3L328.1,602.9L329.4,608.8L330.6,614.8L331.9,620.6L333.2,626L334.6,630.4L335.9,633.4L337.1,633.4L338.4,630.4L339.8,626L341.1,620.6L342.4,614.8L343.6,608.8L344.9,602.9L346.2,597.3L347.6,592.1L348.9,587.4L350.1,583.3L351.4,579.8L352.8,576.9L354.1,574.5L355.4,572.5L356.6,571.1L357.9,570L359.2,569.3L360.6,568.9L361.9,568.7L363.1,568.7L364.4,568.9L365.8,569.3L367.1,569.7L368.4,570.2L369.6,570.8L370.9,571.4L372.2,572.1L373.6,572.8L374.9,573.5L376.1,574.3L379.4,576.1L382.6,578L385.9,579.8L389.1,581.7L392.4,583.5L395.6,585.3L398.9,587.1L402.1,588.8L405.4,590.5L408.6,592.2L411.9,593.8L415.1,595.5L418.4,597.1L421.6,598.6L424.9,600.2L428.1,601.7L431.4,603.2L434.6,604.6L437.9,606L441.1,607.4L444.4,608.8L447.6,610.2L450.9,611.5L454.1,612.8L457.4,614.1L460.6,615.3L463.9,616.5L467.1,617.7L470.4,618.9L473.6,620.1L476.9,621.2L480.1,622.3L483.4,623.4L486.6,624.5L489.9,625.5L493.1,626.6L496.4,627.6L499.6,628.6L502.9,629.5L506.1,630.5L509.4,631.4L512.6,632.3L515.9,633.2L519.1,634.1L522.4,635L525.6,635.8L528.9,636.7L532.1,637.5L535.4,638.3L538.6,639.1L541.9,639.8L545.1,640.6L548.4,641.3L551.6,642.1L554.9,642.8L558.1,643.5L561.4,644.2L564.6,644.8L567.9,645.5L571.1,646.2L574.4,646.8L577.6,647.4L580.9,648L584.1,648.6L587.4,649.2L590.6,649.8L593.9,650.4L597.2,650.9L600.4,651.5L603.7,652L603.7,666.8L600.4,666.4L597.2,666L593.9,665.6L590.6,665.2L587.4,664.8L584.1,664.4L580.9,663.9L577.6,663.5L574.4,663L571.1,662.6L567.9,662.1L564.6,661.6L561.4,661.1L558.1,660.6L554.9,660L551.6,659.5L548.4,659L545.1,658.4L541.9,657.8L538.6,657.2L535.4,656.6L532.1,656L528.9,655.4L525.6,654.8L522.4,654.1L519.1,653.4L515.9,652.8L512.6,652.1L509.4,651.3L506.1,650.6L502.9,649.9L499.6,649.1L496.4,648.3L493.1,647.5L489.9,646.7L486.6,645.9L483.4,645L480.1,644.2L476.9,643.3L473.6,642.4L470.4,641.4L467.1,640.5L463.9,639.5L460.6,638.5L457.4,637.5L454.1,636.5L450.9,635.4L447.6,634.4L444.4,633.3L441.1,632.1L437.9,631L434.6,629.8L431.4,628.6L428.1,627.4L424.9,626.1L421.6,624.9L418.4,623.6L415.1,622.3L411.9,620.9L408.6,619.5L405.4,618.1L402.1,616.7L398.9,615.2L395.6,613.7L392.4,612.2L389.1,610.7L385.9,609.2L382.6,607.6L379.4,606L376.1,604.4L374.9,603.8L373.6,603.2L372.2,602.6L370.9,602L369.6,601.5L368.4,601L367.1,600.6L365.8,600.2L364.4,599.9L363.1,599.7L361.9,599.7L360.6,599.9L359.2,600.2L357.9,600.8L356.6,601.7L355.4,603L354.1,604.6L352.8,606.6L351.4,609.1L350.1,612.1L348.9,615.6L347.6,619.5L346.2,623.8L344.9,628.4L343.6,633.2L342.4,638.1L341.1,642.8L339.8,647.1L338.4,650.6L337.1,652.9L335.9,652.9L334.6,650.6L333.2,647.1L331.9,642.8L330.6,638.1L329.4,633.2L328.1,628.4L326.8,623.8L325.4,619.5L324.1,615.6L322.9,612.1L321.6,609.1L320.2,606.6L318.9,604.6L317.6,603L316.4,601.7L315.1,600.8L313.8,600.2L312.4,599.9L311.1,599.7L309.9,599.7L308.6,599.9L307.2,600.2L305.9,600.6L304.6,601L303.4,601.5L302.1,602L300.8,602.6L299.4,603.2L296.2,604.7L292.9,606.3L289.7,607.9L286.4,609.5L283.2,611L279.9,612.5L276.7,614L273.4,615.5L270.2,617L266.9,618.4L263.7,619.8L260.4,621.2L257.2,622.5L253.9,623.8L250.7,625.1L247.4,626.4L244.2,627.6L240.9,628.9L237.7,630.1L234.4,631.2L231.2,632.4L227.9,633.5L224.7,634.6L221.4,635.7L218.2,636.7L214.9,637.7L211.7,638.7L208.5,639.7L205.2,640.7L202,641.6L198.7,642.6L195.5,643.5L192.2,644.3L189,645.2L185.7,646.1L182.5,646.9L179.2,647.7L176,648.5L172.7,649.3L169.5,650L166.2,650.8L163,651.5L159.7,652.2L156.5,652.9L153.2,653.6L150,654.2L146.7,654.9L143.5,655.5L140.2,656.2L137,656.8L133.7,657.4L130.5,657.9L127.2,658.5L123.9,659.1L120.7,659.6L117.4,660.1L114.2,660.7L110.9,661.2L107.7,661.7L104.4,662.2L101.2,662.6L97.9,663.1L94.7,663.6L91.4,664L88.2,664.5L84.9,664.9L81.7,665.3L78.4,665.7L75.2,666.1L71.9,666.5L68.7,666.9Z" fill="#d1d3d4" stroke="#d1d3d4" stroke-width="1.5" stroke-linejoin="round"/>
<path d="M68.7,657.8L71.9,657.3L75.2,656.8L78.4,656.4L81.7,655.9L84.9,655.4L88.2,654.9L91.4,654.4L94.7,653.8L97.9,653.3L101.2,652.7L104.4,652.2L107.7,651.6L110.9,651L114.2,650.4L117.4,649.8L120.7,649.2L123.9,648.6L127.2,647.9L130.5,647.2L133.7,646.6L137,645.9L140.2,645.2L143.5,644.5L146.7,643.7L150,643L153.2,642.2L156.5,641.4L159.7,640.6L163,639.8L166.2,639L169.5,638.1L172.7,637.3L176,636.4L179.2,635.5L182.5,634.6L185.7,633.6L189,632.7L192.2,631.7L195.5,630.7L198.7,629.7L202,628.7L205.2,627.6L208.5,626.5L211.7,625.4L214.9,624.3L218.2,623.1L221.4,622L224.7,620.8L227.9,619.5L231.2,618.3L234.4,617L237.7,615.7L240.9,614.4L244.2,613L247.4,611.6L250.7,610.2L253.9,608.7L257.2,607.2L260.4,605.7L263.7,604.1L266.9,602.5L270.2,600.8L273.4,599L276.7,597.2L279.9,595.3L283.2,593.4L286.4,591.4L289.7,589.4L292.9,587.3L296.2,585.2L299.4,583L300.8,582.2L302.1,581.4L303.4,580.6L304.6,579.9L305.9,579.2L307.2,578.6L308.6,578.1L309.9,577.8L311.1,577.5L312.4,577.5L313.8,577.7L315.1,578.2L316.4,579L317.6,580.2L318.9,581.8L320.2,583.9L321.6,586.5L322.9,589.6L324.1,593.2L325.4,597.4L326.8,602L328.1,607.1L329.4,612.3L330.6,617.7L331.9,622.9L333.2,627.7L334.6,631.6L335.9,634.3L337.1,634.3L338.4,631.6L339.8,627.7L341.1,622.9L342.4,617.7L343.6,612.3L344.9,607.1L346.2,602L347.6,597.4L348.9,593.2L350.1,589.6L351.4,586.5L352.8,583.9L354.1,581.8L355.4,580.2L356.6,579L357.9,578.2L359.2,577.7L360.6,577.5L361.9,577.5L363.1,577.8L364.4,578.1L365.8,578.6L367.1,579.2L368.4,579.9L369.6,580.6L370.9,581.4L372.2,582.2L373.6,583L374.9,583.9L376.1,584.7L379.4,586.9L382.6,589L385.9,591L389.1,593L392.4,595L395.6,596.8L398.9,598.7L402.1,600.4L405.4,602.1L408.6,603.8L411.9,605.4L415.1,606.9L418.4,608.4L421.6,609.9L424.9,611.3L428.1,612.8L431.4,614.1L434.6,615.5L437.9,616.8L441.1,618L444.4,619.3L447.6,620.5L450.9,621.7L454.1,622.9L457.4,624.1L460.6,625.2L463.9,626.3L467.1,627.4L470.4,628.5L473.6,629.5L476.9,630.5L480.1,631.5L483.4,632.5L486.6,633.5L489.9,634.4L493.1,635.3L496.4,636.2L499.6,637.1L502.9,638L506.1,638.8L509.4,639.7L512.6,640.5L515.9,641.3L519.1,642.1L522.4,642.8L525.6,643.6L528.9,644.3L532.1,645L535.4,645.7L538.6,646.4L541.9,647.1L545.1,647.8L548.4,648.4L551.6,649.1L554.9,649.7L558.1,650.3L561.4,650.9L564.6,651.5L567.9,652.1L571.1,652.6L574.4,653.2L577.6,653.7L580.9,654.2L584.1,654.8L587.4,655.3L590.6,655.8L593.9,656.3L597.2,656.7L600.4,657.2L603.7,657.7" fill="none" stroke="#d2232a" stroke-width="0.9" stroke-dasharray="2.6 1.5"/>
<path d="M68.7,661.2L71.9,660.8L75.2,660.3L78.4,659.8L81.7,659.3L84.9,658.8L88.2,658.3L91.4,657.8L94.7,657.3L97.9,656.7L101.2,656.2L104.4,655.6L107.7,655.1L110.9,654.5L114.2,653.9L117.4,653.3L120.7,652.6L123.9,652L127.2,651.4L130.5,650.7L133.7,650L137,649.3L140.2,648.6L143.5,647.9L146.7,647.2L150,646.4L153.2,645.7L156.5,644.9L159.7,644.1L163,643.3L166.2,642.4L169.5,641.6L172.7,640.7L176,639.9L179.2,639L182.5,638L185.7,637.1L189,636.1L192.2,635.2L195.5,634.2L198.7,633.2L202,632.1L205.2,631.1L208.5,630L211.7,628.9L214.9,627.7L218.2,626.6L221.4,625.4L224.7,624.2L227.9,623L231.2,621.8L234.4,620.5L237.7,619.2L240.9,617.9L244.2,616.6L247.4,615.2L250.7,613.9L253.9,612.5L257.2,611.1L260.4,609.6L263.7,608.2L266.9,606.8L270.2,605.3L273.4,603.9L276.7,602.5L279.9,601.1L283.2,599.6L286.4,598.2L289.7,596.9L292.9,595.5L296.2,594.2L299.4,593L300.8,592.5L302.1,592.1L303.4,591.7L304.6,591.3L305.9,591L307.2,590.8L308.6,590.7L309.9,590.7L311.1,590.9L312.4,591.2L313.8,591.8L315.1,592.6L316.4,593.8L317.6,595.3L318.9,597.2L320.2,599.6L321.6,602.5L322.9,605.9L324.1,609.8L325.4,614.2L326.8,619L328.1,624.2L329.4,629.7L330.6,635.2L331.9,640.5L333.2,645.3L334.6,649.4L335.9,652L337.1,652L338.4,649.4L339.8,645.3L341.1,640.5L342.4,635.2L343.6,629.7L344.9,624.2L346.2,619L347.6,614.2L348.9,609.8L350.1,605.9L351.4,602.5L352.8,599.6L354.1,597.2L355.4,595.3L356.6,593.8L357.9,592.6L359.2,591.8L360.6,591.2L361.9,590.9L363.1,590.7L364.4,590.7L365.8,590.8L367.1,591L368.4,591.3L369.6,591.7L370.9,592.1L372.2,592.5L373.6,593L374.9,593.5L376.1,594L379.4,595.3L382.6,596.6L385.9,598L389.1,599.4L392.4,600.8L395.6,602.2L398.9,603.6L402.1,605.1L405.4,606.5L408.6,607.9L411.9,609.4L415.1,610.8L418.4,612.2L421.6,613.6L424.9,615L428.1,616.3L431.4,617.7L434.6,619L437.9,620.3L441.1,621.5L444.4,622.8L447.6,624L450.9,625.2L454.1,626.4L457.4,627.5L460.6,628.7L463.9,629.8L467.1,630.8L470.4,631.9L473.6,632.9L476.9,634L480.1,635L483.4,635.9L486.6,636.9L489.9,637.9L493.1,638.8L496.4,639.7L499.6,640.6L502.9,641.4L506.1,642.3L509.4,643.1L512.6,643.9L515.9,644.7L519.1,645.5L522.4,646.3L525.6,647L528.9,647.8L532.1,648.5L535.4,649.2L538.6,649.9L541.9,650.6L545.1,651.2L548.4,651.9L551.6,652.5L554.9,653.1L558.1,653.8L561.4,654.4L564.6,654.9L567.9,655.5L571.1,656.1L574.4,656.6L577.6,657.2L580.9,657.7L584.1,658.2L587.4,658.7L590.6,659.2L593.9,659.7L597.2,660.2L600.4,660.7L603.7,661.1" fill="none" stroke="#d2232a" stroke-width="0.9" stroke-dasharray="2.6 1.5"/>
<path d="M68.7,659.5L71.9,659L75.2,658.6L78.4,658.1L81.7,657.6L84.9,657.1L88.2,656.6L91.4,656.1L94.7,655.6L97.9,655L101.2,654.5L104.4,653.9L107.7,653.3L110.9,652.7L114.2,652.1L117.4,651.5L120.7,650.9L123.9,650.3L127.2,649.6L130.5,649L133.7,648.3L137,647.6L140.2,646.9L143.5,646.2L146.7,645.4L150,644.7L153.2,643.9L156.5,643.2L159.7,642.4L163,641.5L166.2,640.7L169.5,639.9L172.7,639L176,638.1L179.2,637.2L182.5,636.3L185.7,635.4L189,634.4L192.2,633.4L195.5,632.4L198.7,631.4L202,630.4L205.2,629.3L208.5,628.2L211.7,627.1L214.9,626L218.2,624.9L221.4,623.7L224.7,622.5L227.9,621.3L231.2,620L234.4,618.8L237.7,617.5L240.9,616.2L244.2,614.8L247.4,613.4L250.7,612L253.9,610.6L257.2,609.1L260.4,607.7L263.7,606.2L266.9,604.6L270.2,603.1L273.4,601.5L276.7,599.8L279.9,598.2L283.2,596.5L286.4,594.8L289.7,593.1L292.9,591.4L296.2,589.7L299.4,588L300.8,587.4L302.1,586.7L303.4,586.2L304.6,585.6L305.9,585.1L307.2,584.7L308.6,584.4L309.9,584.2L311.1,584.2L312.4,584.4L313.8,584.8L315.1,585.4L316.4,586.4L317.6,587.8L318.9,589.5L320.2,591.8L321.6,594.5L322.9,597.7L324.1,601.5L325.4,605.8L326.8,610.5L328.1,615.6L329.4,621L330.6,626.4L331.9,631.7L333.2,636.5L334.6,640.5L335.9,643.2L337.1,643.2L338.4,640.5L339.8,636.5L341.1,631.7L342.4,626.4L343.6,621L344.9,615.6L346.2,610.5L347.6,605.8L348.9,601.5L350.1,597.7L351.4,594.5L352.8,591.8L354.1,589.5L355.4,587.8L356.6,586.4L357.9,585.4L359.2,584.8L360.6,584.4L361.9,584.2L363.1,584.2L364.4,584.4L365.8,584.7L367.1,585.1L368.4,585.6L369.6,586.2L370.9,586.7L372.2,587.4L373.6,588L374.9,588.7L376.1,589.3L379.4,591.1L382.6,592.8L385.9,594.5L389.1,596.2L392.4,597.9L395.6,599.5L398.9,601.1L402.1,602.7L405.4,604.3L408.6,605.9L411.9,607.4L415.1,608.9L418.4,610.3L421.6,611.7L424.9,613.2L428.1,614.5L431.4,615.9L434.6,617.2L437.9,618.5L441.1,619.8L444.4,621L447.6,622.3L450.9,623.5L454.1,624.6L457.4,625.8L460.6,626.9L463.9,628L467.1,629.1L470.4,630.2L473.6,631.2L476.9,632.2L480.1,633.2L483.4,634.2L486.6,635.2L489.9,636.1L493.1,637L496.4,637.9L499.6,638.8L502.9,639.7L506.1,640.6L509.4,641.4L512.6,642.2L515.9,643L519.1,643.8L522.4,644.5L525.6,645.3L528.9,646L532.1,646.8L535.4,647.5L538.6,648.2L541.9,648.8L545.1,649.5L548.4,650.1L551.6,650.8L554.9,651.4L558.1,652L561.4,652.6L564.6,653.2L567.9,653.8L571.1,654.4L574.4,654.9L577.6,655.4L580.9,656L584.1,656.5L587.4,657L590.6,657.5L593.9,658L597.2,658.5L600.4,658.9L603.7,659.4" fill="none" stroke="#d2232a" stroke-width="1.35"/>
<g fill="#3c3b80"><circle cx="76.6" cy="666.8" r="2.5"/><circle cx="79.9" cy="656.9" r="2.5"/><circle cx="83.3" cy="669.3" r="2.5"/><circle cx="86.6" cy="674.2" r="2.5"/><circle cx="89.9" cy="654.5" r="2.5"/><circle cx="93.2" cy="649.5" r="2.5"/><circle cx="96.6" cy="661.9" r="2.5"/><circle cx="99.9" cy="661.9" r="2.5"/><circle cx="103.2" cy="647.1" r="2.5"/><circle cx="106.6" cy="661.9" r="2.5"/><circle cx="109.9" cy="661.9" r="2.5"/><circle cx="113.2" cy="639.7" r="2.5"/><circle cx="116.6" cy="652" r="2.5"/><circle cx="119.9" cy="656.9" r="2.5"/><circle cx="123.2" cy="652" r="2.5"/><circle cx="126.5" cy="642.1" r="2.5"/><circle cx="129.9" cy="637.2" r="2.5"/><circle cx="133.2" cy="634.7" r="2.5"/><circle cx="136.5" cy="652" r="2.5"/><circle cx="139.9" cy="654.5" r="2.5"/><circle cx="143.2" cy="642.1" r="2.5"/><circle cx="146.5" cy="666.8" r="2.5"/><circle cx="149.9" cy="654.5" r="2.5"/><circle cx="153.2" cy="639.7" r="2.5"/><circle cx="156.5" cy="639.7" r="2.5"/><circle cx="159.8" cy="637.2" r="2.5"/><circle cx="163.2" cy="634.7" r="2.5"/><circle cx="166.5" cy="632.3" r="2.5"/><circle cx="169.8" cy="639.7" r="2.5"/><circle cx="173.2" cy="644.6" r="2.5"/><circle cx="176.5" cy="632.3" r="2.5"/><circle cx="179.8" cy="622.4" r="2.5"/><circle cx="183.2" cy="639.7" r="2.5"/><circle cx="186.5" cy="634.7" r="2.5"/><circle cx="189.8" cy="639.7" r="2.5"/><circle cx="193.1" cy="644.6" r="2.5"/><circle cx="196.5" cy="647.1" r="2.5"/><circle cx="199.8" cy="647.1" r="2.5"/><circle cx="203.1" cy="624.9" r="2.5"/><circle cx="206.5" cy="624.9" r="2.5"/><circle cx="209.8" cy="627.3" r="2.5"/><circle cx="213.1" cy="629.8" r="2.5"/><circle cx="216.5" cy="624.9" r="2.5"/><circle cx="219.8" cy="622.4" r="2.5"/><circle cx="223.1" cy="634.7" r="2.5"/><circle cx="226.4" cy="642.1" r="2.5"/><circle cx="229.8" cy="624.9" r="2.5"/><circle cx="233.1" cy="607.6" r="2.5"/><circle cx="236.4" cy="647.1" r="2.5"/><circle cx="239.8" cy="637.2" r="2.5"/><circle cx="243.1" cy="615" r="2.5"/><circle cx="246.4" cy="622.4" r="2.5"/><circle cx="249.8" cy="637.2" r="2.5"/><circle cx="253.1" cy="619.9" r="2.5"/><circle cx="256.4" cy="624.9" r="2.5"/><circle cx="259.8" cy="622.4" r="2.5"/><circle cx="263.1" cy="619.9" r="2.5"/><circle cx="266.4" cy="634.7" r="2.5"/><circle cx="269.7" cy="622.4" r="2.5"/><circle cx="273.1" cy="585.4" r="2.5"/><circle cx="276.4" cy="595.3" r="2.5"/><circle cx="279.7" cy="592.8" r="2.5"/><circle cx="283.1" cy="610.1" r="2.5"/><circle cx="286.4" cy="602.7" r="2.5"/><circle cx="289.7" cy="595.3" r="2.5"/><circle cx="293.1" cy="587.9" r="2.5"/><circle cx="296.4" cy="555.8" r="2.5"/><circle cx="299.7" cy="600.2" r="2.5"/><circle cx="303" cy="595.3" r="2.5"/><circle cx="306.4" cy="617.5" r="2.5"/><circle cx="309.7" cy="580.5" r="2.5"/><circle cx="313" cy="607.6" r="2.5"/><circle cx="316.4" cy="585.4" r="2.5"/><circle cx="319.7" cy="610.1" r="2.5"/><circle cx="323" cy="605.1" r="2.5"/><circle cx="326.4" cy="622.4" r="2.5"/><circle cx="329.7" cy="622.4" r="2.5"/><circle cx="333" cy="632.3" r="2.5"/><circle cx="336.3" cy="647.1" r="2.5"/><circle cx="339.7" cy="639.7" r="2.5"/><circle cx="343" cy="619.9" r="2.5"/><circle cx="346.3" cy="592.8" r="2.5"/><circle cx="349.7" cy="602.7" r="2.5"/><circle cx="353" cy="605.1" r="2.5"/><circle cx="356.3" cy="585.4" r="2.5"/><circle cx="359.6" cy="585.4" r="2.5"/><circle cx="363" cy="597.7" r="2.5"/><circle cx="366.3" cy="582.9" r="2.5"/><circle cx="369.6" cy="585.4" r="2.5"/><circle cx="373" cy="587.9" r="2.5"/><circle cx="376.3" cy="568.1" r="2.5"/><circle cx="379.6" cy="565.7" r="2.5"/><circle cx="383" cy="580.5" r="2.5"/><circle cx="386.3" cy="624.9" r="2.5"/><circle cx="389.6" cy="595.3" r="2.5"/><circle cx="393" cy="605.1" r="2.5"/><circle cx="396.3" cy="605.1" r="2.5"/><circle cx="399.6" cy="619.9" r="2.5"/><circle cx="402.9" cy="612.5" r="2.5"/><circle cx="406.3" cy="612.5" r="2.5"/><circle cx="409.6" cy="622.4" r="2.5"/><circle cx="412.9" cy="605.1" r="2.5"/><circle cx="416.3" cy="617.5" r="2.5"/><circle cx="419.6" cy="617.5" r="2.5"/><circle cx="422.9" cy="615" r="2.5"/><circle cx="426.2" cy="624.9" r="2.5"/><circle cx="429.6" cy="617.5" r="2.5"/><circle cx="432.9" cy="605.1" r="2.5"/><circle cx="436.2" cy="619.9" r="2.5"/><circle cx="439.6" cy="627.3" r="2.5"/><circle cx="442.9" cy="637.2" r="2.5"/><circle cx="446.2" cy="627.3" r="2.5"/><circle cx="449.6" cy="634.7" r="2.5"/><circle cx="452.9" cy="600.2" r="2.5"/><circle cx="456.2" cy="619.9" r="2.5"/><circle cx="459.5" cy="632.3" r="2.5"/><circle cx="462.9" cy="644.6" r="2.5"/><circle cx="466.2" cy="634.7" r="2.5"/><circle cx="469.5" cy="642.1" r="2.5"/><circle cx="472.9" cy="624.9" r="2.5"/><circle cx="476.2" cy="622.4" r="2.5"/><circle cx="479.5" cy="627.3" r="2.5"/><circle cx="482.9" cy="642.1" r="2.5"/><circle cx="486.2" cy="647.1" r="2.5"/><circle cx="489.5" cy="624.9" r="2.5"/><circle cx="492.9" cy="647.1" r="2.5"/><circle cx="496.2" cy="652" r="2.5"/><circle cx="499.5" cy="647.1" r="2.5"/><circle cx="502.8" cy="649.5" r="2.5"/><circle cx="506.2" cy="656.9" r="2.5"/><circle cx="509.5" cy="642.1" r="2.5"/><circle cx="512.8" cy="654.5" r="2.5"/><circle cx="516.2" cy="634.7" r="2.5"/><circle cx="519.5" cy="647.1" r="2.5"/><circle cx="522.8" cy="647.1" r="2.5"/><circle cx="526.1" cy="644.6" r="2.5"/><circle cx="529.5" cy="642.1" r="2.5"/><circle cx="532.8" cy="642.1" r="2.5"/><circle cx="536.1" cy="652" r="2.5"/><circle cx="539.5" cy="644.6" r="2.5"/><circle cx="542.8" cy="652" r="2.5"/><circle cx="546.1" cy="661.9" r="2.5"/><circle cx="549.5" cy="642.1" r="2.5"/><circle cx="552.8" cy="644.6" r="2.5"/><circle cx="556.1" cy="642.1" r="2.5"/><circle cx="559.5" cy="661.9" r="2.5"/><circle cx="562.8" cy="659.4" r="2.5"/><circle cx="566.1" cy="669.3" r="2.5"/><circle cx="569.4" cy="639.7" r="2.5"/><circle cx="572.8" cy="652" r="2.5"/><circle cx="576.1" cy="654.5" r="2.5"/><circle cx="579.4" cy="659.4" r="2.5"/><circle cx="582.8" cy="649.5" r="2.5"/><circle cx="586.1" cy="652" r="2.5"/><circle cx="589.4" cy="654.5" r="2.5"/><circle cx="592.8" cy="656.9" r="2.5"/><circle cx="596.1" cy="659.4" r="2.5"/></g>
</g>
<path d="M76.5,675.8 v-3.6 M76.5,533.9 v3.6 M102.5,675.8 v-2.8 M102.5,533.9 v2.8 M128.5,675.8 v-2.8 M128.5,533.9 v2.8 M154.5,675.8 v-2.8 M154.5,533.9 v2.8 M180.5,675.8 v-2.8 M180.5,533.9 v2.8 M206.5,675.8 v-3.6 M206.5,533.9 v3.6 M232.5,675.8 v-2.8 M232.5,533.9 v2.8 M258.5,675.8 v-2.8 M258.5,533.9 v2.8 M284.5,675.8 v-2.8 M284.5,533.9 v2.8 M310.5,675.8 v-2.8 M310.5,533.9 v2.8 M336.5,675.8 v-3.6 M336.5,533.9 v3.6 M362.5,675.8 v-2.8 M362.5,533.9 v2.8 M388.5,675.8 v-2.8 M388.5,533.9 v2.8 M414.5,675.8 v-2.8 M414.5,533.9 v2.8 M440.5,675.8 v-2.8 M440.5,533.9 v2.8 M466.5,675.8 v-3.6 M466.5,533.9 v3.6 M492.5,675.8 v-2.8 M492.5,533.9 v2.8 M518.5,675.8 v-2.8 M518.5,533.9 v2.8 M544.5,675.8 v-2.8 M544.5,533.9 v2.8 M570.5,675.8 v-2.8 M570.5,533.9 v2.8 M596.5,675.8 v-3.6 M596.5,533.9 v3.6 M69.8,656.9 h5.2 M604.6,656.9 h-5.2 M69.8,632.3 h5.2 M604.6,632.3 h-5.2 M69.8,607.6 h5.2 M604.6,607.6 h-5.2 M69.8,582.9 h5.2 M604.6,582.9 h-5.2 M69.8,558.2 h5.2 M604.6,558.2 h-5.2" stroke="#231f20" stroke-width="1.15" fill="none"/>
<rect x="69.8" y="533.9" width="534.8" height="141.9" fill="none" stroke="#231f20" stroke-width="1.4"/>
<text font-size="25" transform="translate(36.57,431.00) scale(1.0514,1.0000)">40</text>
<text font-size="25" transform="translate(36.69,476.90) scale(1.0471,1.0000)">20</text>
<text font-size="25" transform="translate(52.79,523.70) scale(0.9083,1.0000)">0</text>
<text font-size="25" transform="translate(36.57,589.20) scale(1.0514,1.0000)">40</text>
<text font-size="25" transform="translate(36.69,637.00) scale(1.0471,1.0000)">20</text>
<text font-size="25" transform="translate(52.79,683.90) scale(0.9083,1.0000)">0</text>
<text font-size="25" transform="translate(50.57,704.90) scale(0.9814,1.0000)">−20</text>
<text font-size="25" transform="translate(182.27,704.90) scale(0.9839,1.0000)">−10</text>
<text font-size="25" transform="translate(329.52,704.90) scale(1.0833,1.0000)">0</text>
<text font-size="25" transform="translate(453.99,704.90) scale(0.9535,1.0000)">10</text>
<text font-size="25" transform="translate(585.24,704.90) scale(1.0118,1.0000)">20</text>
<text font-size="24.8" transform="translate(175.06,732.50) scale(1.0187,1.0000)">Detection Time Difference (ns)</text>
<text font-size="24.8" transform="translate(21.2,632.77) rotate(-90) scale(1.0180,1.0000)">Coincidence Counts</text>
<text font-size="25" transform="translate(456.19,412.80) scale(1.0044,1.0000)">polarization</text>
<text font-size="25" transform="translate(435.13,570.30) scale(1.0083,1.0000)">|| polarization</text>
<text class="mth" stroke="#fff" stroke-width="0.45" font-size="26" transform="translate(422.02,414.40) scale(1.5394,1.2219)">⊥</text>
<defs>
<filter id="hm1" filterUnits="userSpaceOnUse" x="715.5" y="354" width="103" height="177" color-interpolation-filters="sRGB">
<feTurbulence type="fractalNoise" baseFrequency="0.003 0.55" numOctaves="2" seed="24" result="m0"/>
<feColorMatrix in="m0" type="matrix" values="1 0 0 0 0  0 0 0 0 0.5  1 0 0 0 0  0 0 0 0 1" result="m"/>
<feColorMatrix in="m0" type="matrix" values="0 1 0 0 0  0 1 0 0 0  0 1 0 0 0  0 0 0 0 1" result="mg"/>
<feDisplacementMap in="SourceGraphic" in2="m" scale="5" xChannelSelector="R" yChannelSelector="G" result="d"/>
<feComposite in="d" in2="mg" operator="arithmetic" k1="0.44" k2="0.78" k3="0" k4="0" result="t"/>
<feTurbulence type="fractalNoise" baseFrequency="0.4 0.85" numOctaves="2" seed="4" result="n"/>
<feColorMatrix in="n" type="matrix" values="1 0 0 0 0  1 0 0 0 0  1 0 0 0 0  0 0 0 0 1" result="n2"/>
<feComposite in="t" in2="n2" operator="arithmetic" k1="0" k2="1" k3="0.26" k4="-0.13" result="s"/>
<feComponentTransfer in="s"><feFuncR type="table" tableValues="0.000 0.006 0.011 0.025 0.069 0.113 0.157 0.203 0.250 0.297 0.396 0.508 0.620 0.698 0.776 0.841 0.849 0.858 0.866 0.875 0.883 0.892 0.901 0.909 0.918 0.927 0.936 0.944 0.953 0.958 0.963 0.968 0.973 0.977 0.981 0.986 0.990 0.993 0.996 0.998 1.000"/><feFuncG type="table" tableValues="0.000 0.006 0.011 0.025 0.069 0.113 0.157 0.176 0.196 0.216 0.208 0.194 0.180 0.200 0.220 0.241 0.267 0.293 0.319 0.345 0.371 0.400 0.437 0.474 0.511 0.548 0.585 0.622 0.659 0.712 0.765 0.818 0.871 0.893 0.915 0.937 0.960 0.974 0.983 0.991 1.000"/><feFuncB type="table" tableValues="0.000 0.025 0.050 0.094 0.209 0.324 0.439 0.474 0.508 0.542 0.513 0.468 0.424 0.335 0.247 0.176 0.173 0.169 0.166 0.163 0.159 0.158 0.165 0.171 0.178 0.184 0.191 0.197 0.204 0.259 0.314 0.369 0.424 0.497 0.570 0.643 0.716 0.784 0.850 0.915 0.980"/></feComponentTransfer>
</filter>
<filter id="hm2" filterUnits="userSpaceOnUse" x="715.8" y="539.8" width="102.2" height="179" color-interpolation-filters="sRGB">
<feTurbulence type="fractalNoise" baseFrequency="0.003 0.55" numOctaves="2" seed="29" result="m0"/>
<feColorMatrix in="m0" type="matrix" values="1 0 0 0 0  0 0 0 0 0.5  1 0 0 0 0  0 0 0 0 1" result="m"/>
<feColorMatrix in="m0" type="matrix" values="0 1 0 0 0  0 1 0 0 0  0 1 0 0 0  0 0 0 0 1" result="mg"/>
<feDisplacementMap in="SourceGraphic" in2="m" scale="5" xChannelSelector="R" yChannelSelector="G" result="d"/>
<feComposite in="d" in2="mg" operator="arithmetic" k1="0.44" k2="0.78" k3="0" k4="0" result="t"/>
<feTurbulence type="fractalNoise" baseFrequency="0.4 0.85" numOctaves="2" seed="9" result="n"/>
<feColorMatrix in="n" type="matrix" values="1 0 0 0 0  1 0 0 0 0  1 0 0 0 0  0 0 0 0 1" result="n2"/>
<feComposite in="t" in2="n2" operator="arithmetic" k1="0" k2="1" k3="0.26" k4="-0.13" result="s"/>
<feComponentTransfer in="s"><feFuncR type="table" tableValues="0.000 0.006 0.011 0.025 0.069 0.113 0.157 0.203 0.250 0.297 0.396 0.508 0.620 0.698 0.776 0.841 0.849 0.858 0.866 0.875 0.883 0.892 0.901 0.909 0.918 0.927 0.936 0.944 0.953 0.958 0.963 0.968 0.973 0.977 0.981 0.986 0.990 0.993 0.996 0.998 1.000"/><feFuncG type="table" tableValues="0.000 0.006 0.011 0.025 0.069 0.113 0.157 0.176 0.196 0.216 0.208 0.194 0.180 0.200 0.220 0.241 0.267 0.293 0.319 0.345 0.371 0.400 0.437 0.474 0.511 0.548 0.585 0.622 0.659 0.712 0.765 0.818 0.871 0.893 0.915 0.937 0.960 0.974 0.983 0.991 1.000"/><feFuncB type="table" tableValues="0.000 0.025 0.050 0.094 0.209 0.324 0.439 0.474 0.508 0.542 0.513 0.468 0.424 0.335 0.247 0.176 0.173 0.169 0.166 0.163 0.159 0.158 0.165 0.171 0.178 0.184 0.191 0.197 0.204 0.259 0.314 0.369 0.424 0.497 0.570 0.643 0.716 0.784 0.850 0.915 0.980"/></feComponentTransfer>
</filter>
<filter id="bl1" x="-50%" width="200%"><feGaussianBlur stdDeviation="1.1 0.5"/></filter><filter id="bl2" x="-150%" width="400%"><feGaussianBlur stdDeviation="6 1.2"/></filter><filter id="bl3" x="-100%" width="300%"><feGaussianBlur stdDeviation="2.6 0.8"/></filter>
<linearGradient id="cbar" x1="0" y1="0" x2="1" y2="0"><stop offset="0.00" stop-color="rgb(0,0,0)"/><stop offset="0.07" stop-color="rgb(4,4,18)"/><stop offset="0.15" stop-color="rgb(40,40,112)"/><stop offset="0.23" stop-color="rgb(78,56,140)"/><stop offset="0.30" stop-color="rgb(158,46,108)"/><stop offset="0.37" stop-color="rgb(214,60,45)"/><stop offset="0.52" stop-color="rgb(227,100,40)"/><stop offset="0.70" stop-color="rgb(243,168,52)"/><stop offset="0.80" stop-color="rgb(248,222,108)"/><stop offset="0.91" stop-color="rgb(253,247,190)"/><stop offset="1.00" stop-color="rgb(255,255,250)"/></linearGradient>
</defs>
<g filter="url(#hm1)">
<rect x="710.5" y="349" width="113" height="187" fill="rgb(35,35,35)"/>
<path d="M755,353L755,361.5L757,362.5L757,380L757.8,398.5L755.5,400.5L748,402.5L741.5,404.5L739.3,406.5L739.5,411.1L775.5,411.1L775.3,406.5L777.5,404.5L784,402.5L791.5,400.5L793.8,398.5L793,380L793,362.5L791,361.5L791,353Z" fill="rgb(68,68,68)" opacity="0.85" filter="url(#bl2)"/>
<path d="M758.8,411.1L758.3,420L757,424L755.5,430L753,436L750.8,441L748.5,447L746,452L744,457.3L780,457.3L782,452L784.5,447L786.8,441L789,436L791.5,430L793,424L794.3,420L794.8,411.1Z" fill="rgb(68,68,68)" opacity="0.85" filter="url(#bl2)"/>
<path d="M756.4,457.3L757,470L758,480L759.2,490L759.6,497L795.6,497L795.2,490L794,480L793,470L792.4,457.3Z" fill="rgb(68,68,68)" opacity="0.85" filter="url(#bl2)"/>
<path d="M737.2,497L737.4,510L737.6,520L737.4,532L773.4,532L773.6,520L773.4,510L773.2,497Z" fill="rgb(68,68,68)" opacity="0.85" filter="url(#bl2)"/>
<path d="M765.4,353L765.4,361.5L767.4,362.5L767.4,380L768.2,398.5L765.9,400.5L758.4,402.5L751.9,404.5L749.7,406.5L749.9,411.1L765.1,411.1L764.9,406.5L767.1,404.5L773.6,402.5L781.1,400.5L783.4,398.5L782.6,380L782.6,362.5L780.6,361.5L780.6,353Z" fill="rgb(87,87,87)" opacity="0.9" filter="url(#bl3)"/>
<path d="M769.2,411.1L768.7,420L767.4,424L765.9,430L763.4,436L761.2,441L758.9,447L756.4,452L754.4,457.3L769.6,457.3L771.6,452L774.1,447L776.4,441L778.6,436L781.1,430L782.6,424L783.9,420L784.4,411.1Z" fill="rgb(87,87,87)" opacity="0.9" filter="url(#bl3)"/>
<path d="M766.8,457.3L767.4,470L768.4,480L769.6,490L770,497L785.2,497L784.8,490L783.6,480L782.6,470L782,457.3Z" fill="rgb(87,87,87)" opacity="0.9" filter="url(#bl3)"/>
<path d="M747.6,497L747.8,510L748,520L747.8,532L763,532L763.2,520L763,510L762.8,497Z" fill="rgb(87,87,87)" opacity="0.9" filter="url(#bl3)"/>
<path d="M767.2,353L767.2,361.5L769.2,362.5L769.2,380L770,398.5L767.7,400.5L760.2,402.5L753.7,404.5L751.5,406.5L751.7,411.1L763.3,411.1L763.1,406.5L765.3,404.5L771.8,402.5L779.3,400.5L781.6,398.5L780.8,380L780.8,362.5L778.8,361.5L778.8,353Z" fill="rgb(140,140,140)" opacity="1" filter="url(#bl1)"/>
<path d="M771,411.1L770.5,420L769.2,424L767.7,430L765.2,436L763,441L760.7,447L758.2,452L756.2,457.3L767.8,457.3L769.8,452L772.3,447L774.6,441L776.8,436L779.3,430L780.8,424L782.1,420L782.6,411.1Z" fill="rgb(140,140,140)" opacity="1" filter="url(#bl1)"/>
<path d="M768.6,457.3L769.2,470L770.2,480L771.4,490L771.8,497L783.4,497L783,490L781.8,480L780.8,470L780.2,457.3Z" fill="rgb(140,140,140)" opacity="1" filter="url(#bl1)"/>
<path d="M749.4,497L749.6,510L749.8,520L749.6,532L761.2,532L761.4,520L761.2,510L761,497Z" fill="rgb(140,140,140)" opacity="1" filter="url(#bl1)"/>
<path d="M770,353L770,361.5L772,362.5L772,380L772.8,398.5L770.5,400.5L763,402.5L756.5,404.5L754.3,406.5L754.5,411.1L760.5,411.1L760.3,406.5L762.5,404.5L769,402.5L776.5,400.5L778.8,398.5L778,380L778,362.5L776,361.5L776,353Z" fill="rgb(189,189,189)" opacity="1" filter="url(#bl1)"/>
<path d="M773.8,411.1L773.3,420L772,424L770.5,430L768,436L765.8,441L763.5,447L761,452L759,457.3L765,457.3L767,452L769.5,447L771.8,441L774,436L776.5,430L778,424L779.3,420L779.8,411.1Z" fill="rgb(189,189,189)" opacity="1" filter="url(#bl1)"/>
<path d="M771.4,457.3L772,470L773,480L774.2,490L774.6,497L780.6,497L780.2,490L779,480L778,470L777.4,457.3Z" fill="rgb(189,189,189)" opacity="1" filter="url(#bl1)"/>
<path d="M752.2,497L752.4,510L752.6,520L752.4,532L758.4,532L758.6,520L758.4,510L758.2,497Z" fill="rgb(189,189,189)" opacity="1" filter="url(#bl1)"/>
<rect x="760" y="361.4" width="22" height="1" fill="#000" opacity="0.3"/>
<rect x="765" y="389.8" width="20" height="1" fill="#000" opacity="0.3"/>
<rect x="752" y="459.5" width="43" height="1" fill="#000" opacity="0.5"/>
</g>
<g filter="url(#hm2)">
<rect x="710.8" y="534.8" width="112.2" height="189" fill="rgb(35,35,35)"/>
<path d="M752.2,538L751.3,560L750.5,575L748.6,590L747.8,610L749.2,640L749.8,665L750.6,690L750.8,705L750.6,720L785.8,720L788.2,705L792.4,690L793.8,665L793.2,640L791.8,610L788.2,590L783.9,575L783.9,560L783.8,538Z" fill="rgb(68,68,68)" opacity="0.85" filter="url(#bl2)"/>
<path d="M761.3,538L760.8,560L760.2,575L760.1,590L760.6,610L762,640L762.6,665L762.7,690L761.6,705L760.8,720L775.6,720L777.4,705L780.3,690L781,665L780.4,640L779,610L776.7,590L774.2,575L774.4,560L774.7,538Z" fill="rgb(87,87,87)" opacity="0.9" filter="url(#bl3)"/>
<path d="M762.9,538L762.4,560L761.8,575L762.1,590L762.8,610L764.2,640L764.8,665L764.8,690L763.5,705L762.6,720L773.8,720L775.5,705L778.2,690L778.8,665L778.2,640L776.8,610L774.7,590L772.6,575L772.8,560L773.1,538Z" fill="rgb(140,140,140)" opacity="1" filter="url(#bl1)"/>
<path d="M765.3,538L764.9,560L764.4,575L765.1,590L766.1,610L767.5,640L768.1,665L768,690L766.4,705L765.2,720L771.2,720L772.6,705L775,690L775.5,665L774.9,640L773.5,610L771.7,590L770,575L770.3,560L770.7,538Z" fill="rgb(191,191,191)" opacity="1" filter="url(#bl1)"/>
<rect x="752" y="544.5" width="34" height="1" fill="#000" opacity="0.4"/>
<rect x="752" y="558.1" width="38" height="1" fill="#000" opacity="0.5"/>
<rect x="745" y="574.7" width="45" height="1" fill="#000" opacity="0.8"/>
<rect x="758" y="579.4" width="24" height="1" fill="#000" opacity="0.6"/>
<rect x="757" y="636.8" width="29" height="1" fill="#000" opacity="0.4"/>
<rect x="752" y="651.3" width="38" height="1" fill="#000" opacity="0.5"/>
<rect x="760" y="678.3" width="22" height="1" fill="#000" opacity="0.2"/>
<rect x="758" y="689.4" width="26" height="1" fill="#000" opacity="0.4"/>
<rect x="758" y="696" width="28" height="1" fill="#000" opacity="0.3"/>
<rect x="760" y="698.3" width="24" height="1" fill="#000" opacity="0.3"/>
<rect x="735" y="701.1" width="55" height="1" fill="#000" opacity="0.8"/>
</g>
<rect x="711.8" y="352.9" width="109.8" height="182.1" fill="none" stroke="#2b2b2d" stroke-width="1"/>
<path d="M721.8,535 v-3 M766.5,535 v-3 M810.6,535 v-3 " stroke="#58595b" stroke-width="0.8" fill="none"/>
<rect x="712.5" y="538.5" width="110.1" height="184.3" fill="none" stroke="#2b2b2d" stroke-width="1"/>
<path d="M721.8,722.8 v-3 M766.5,722.8 v-3 M810.6,722.8 v-3 " stroke="#58595b" stroke-width="0.8" fill="none"/>
<path d="M709.5,419 h2.3 M709.5,482.5 h2.3 M710.2,606 h2.3 M710.2,669.2 h2.3" stroke="#231f20" stroke-width="0.8"/>
<path d="M830.5,359.1 H820.4 M823.8,356.5 L819.8,359.1 L823.8,361.7 M830.5,361.8 H820.4 M823.8,359.2 L819.8,361.8 L823.8,364.4 M830.5,364.4 H820.4 M823.8,361.8 L819.8,364.4 L823.8,367 M830.5,390.2 H820.4 M823.8,387.6 L819.8,390.2 L823.8,392.8 M830.5,413.7 H820.4 M823.8,411.1 L819.8,413.7 L823.8,416.3 M830.5,459.2 H820.4 M823.8,456.6 L819.8,459.2 L823.8,461.8 M830.5,497.8 H820.4 M823.8,495.2 L819.8,497.8 L823.8,500.4 M830.5,546 H820.4 M823.8,543.4 L819.8,546 L823.8,548.6 M830.5,559.6 H820.4 M823.8,557 L819.8,559.6 L823.8,562.2 M830.5,575.2 H820.4 M823.8,572.6 L819.8,575.2 L823.8,577.8 M830.5,577.6 H820.4 M823.8,575 L819.8,577.6 L823.8,580.2 M830.5,580.1 H820.4 M823.8,577.5 L819.8,580.1 L823.8,582.7 M830.5,611.9 H820.4 M823.8,609.3 L819.8,611.9 L823.8,614.5 M830.5,637.3 H820.4 M823.8,634.7 L819.8,637.3 L823.8,639.9 M830.5,651.8 H820.4 M823.8,649.2 L819.8,651.8 L823.8,654.4 M830.5,678.8 H820.4 M823.8,676.2 L819.8,678.8 L823.8,681.4 M830.5,689.9 H820.4 M823.8,687.3 L819.8,689.9 L823.8,692.5 M830.5,696.5 H820.4 M823.8,693.9 L819.8,696.5 L823.8,699.1 M830.5,698.8 H820.4 M823.8,696.2 L819.8,698.8 L823.8,701.4 M830.5,701.2 H820.4 M823.8,698.6 L819.8,701.2 L823.8,703.8 M830.5,704.2 H820.4 M823.8,701.6 L819.8,704.2 L823.8,706.8 M830.5,718.4 H820.4 M823.8,715.8 L819.8,718.4 L823.8,721" fill="none" stroke="#82c046" stroke-width="1.45" stroke-linejoin="miter"/>
<rect x="693.4" y="364.4" width="22.2" height="15.8" fill="#000"/>
<text class="ser" style="fill:#fff" font-size="17" transform="translate(696.09,377.40) scale(1.0178,1.0000)">Feedback</text>
<text class="ser" style="fill:#fff" font-size="17" transform="translate(715.63,398.30) scale(1.0286,1.0000)">OFF</text>
<text class="ser" style="fill:#fff" font-size="13" transform="translate(725.25,561.00) scale(1.1000,1.0000)">ON</text>
<text font-size="25" transform="translate(663.31,423.00) scale(0.9862,0.9143)">500</text>
<text font-size="25" transform="translate(648.38,487.60) scale(1.0114,0.9429)">1000</text>
<text font-size="25" transform="translate(665.81,614.80) scale(0.9862,0.9086)">500</text>
<text font-size="25" transform="translate(650.88,679.90) scale(1.0114,0.9429)">1000</text>
<text font-size="24.5" transform="translate(647.1,582.68) rotate(-90) scale(1.0424,1.0000)">Laser</text>
<text font-size="24.5" transform="translate(677,584.95) rotate(-90) scale(0.9960,1.0000)">Scan #</text>
<text font-size="25" transform="translate(678.17,749.90) scale(0.9815,1.0000)">−300</text>
<text font-size="25" transform="translate(754.22,749.90) scale(1.0833,1.0000)">0</text>
<text font-size="25" transform="translate(796.80,749.90) scale(0.9987,1.0000)">300</text>
<text font-size="24.8" transform="translate(672.67,782.40) scale(1.0147,1.0000)">Detuning (MHz)</text>
<rect x="661" y="685.2" width="51.7" height="33.4" fill="#000"/>
<rect x="663.2" y="686.9" width="56.2" height="13.9" fill="url(#cbar)" stroke="#8dc63f" stroke-width="1.9"/>
<text class="ser" style="fill:#fff" font-size="16.5" transform="translate(669.21,714.70) scale(0.9793,1.0000)">0</text>
<text class="ser" style="fill:#fff" font-size="16.5" transform="translate(691.69,714.70) scale(0.9491,1.0000)">20 kcts/s</text>
</svg></body></html>
